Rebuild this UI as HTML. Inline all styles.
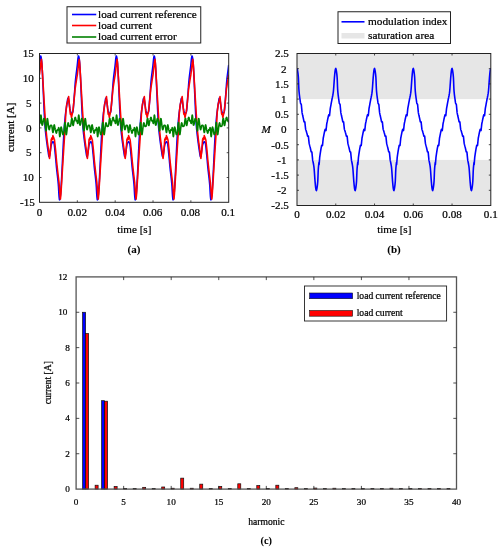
<!DOCTYPE html>
<html><head><meta charset="utf-8"><title>Figure</title>
<style>html,body{margin:0;padding:0;background:#fff}svg{display:block}</style></head>
<body>
<svg width="502" height="550" viewBox="0 0 502 550" style="display:block">
<rect x="0" y="0" width="502" height="550" fill="#fff"/>
<defs><clipPath id="ca"><rect x="39.50" y="53.50" width="189.20" height="148.80"/></clipPath>
<clipPath id="cb"><rect x="297.00" y="53.50" width="193.80" height="152.00"/></clipPath></defs>
<g clip-path="url(#ca)" fill="none" stroke-linejoin="round">
<path d="M39.50,64.91 L39.59,63.99 L39.69,63.01 L39.78,61.99 L39.88,60.99 L39.97,60.03 L40.07,59.18 L40.16,58.46 L40.26,57.80 L40.35,57.13 L40.45,56.55 L40.54,56.14 L40.64,55.98 L40.73,56.06 L40.82,56.26 L40.92,56.58 L41.01,56.99 L41.11,57.45 L41.20,57.95 L41.30,58.46 L41.39,59.04 L41.49,59.76 L41.58,60.61 L41.68,61.59 L41.77,62.69 L41.87,63.90 L41.96,65.22 L42.05,66.64 L42.15,68.16 L42.24,69.76 L42.34,71.44 L42.43,73.20 L42.53,75.03 L42.62,76.92 L42.72,78.87 L42.81,80.86 L42.91,82.90 L43.00,84.97 L43.09,87.08 L43.19,89.21 L43.28,91.35 L43.38,93.51 L43.47,95.67 L43.57,97.82 L43.66,99.97 L43.76,102.11 L43.85,104.22 L43.95,106.30 L44.04,108.35 L44.14,110.36 L44.23,112.32 L44.32,114.23 L44.42,116.07 L44.51,117.85 L44.61,119.56 L44.70,121.19 L44.80,122.73 L44.89,124.17 L44.99,125.52 L45.08,126.77 L45.18,127.90 L45.27,128.95 L45.37,129.95 L45.46,130.91 L45.55,131.83 L45.65,132.72 L45.74,133.57 L45.84,134.40 L45.93,135.21 L46.03,136.00 L46.12,136.77 L46.22,137.54 L46.31,138.29 L46.41,139.05 L46.50,139.80 L46.59,140.56 L46.69,141.31 L46.78,142.05 L46.88,142.79 L46.97,143.52 L47.07,144.23 L47.16,144.94 L47.26,145.64 L47.35,146.32 L47.45,146.99 L47.54,147.65 L47.64,148.30 L47.73,148.93 L47.82,149.54 L47.92,150.14 L48.01,150.72 L48.11,151.31 L48.20,151.95 L48.30,152.61 L48.39,153.27 L48.49,153.92 L48.58,154.55 L48.68,155.12 L48.77,155.63 L48.87,156.06 L48.96,156.39 L49.05,156.59 L49.15,156.67 L49.24,156.61 L49.34,156.46 L49.43,156.21 L49.53,155.88 L49.62,155.47 L49.72,154.99 L49.81,154.45 L49.91,153.86 L50.00,153.23 L50.10,152.56 L50.19,151.87 L50.28,151.16 L50.38,150.44 L50.47,149.72 L50.57,149.00 L50.66,148.30 L50.76,147.63 L50.85,146.98 L50.95,146.38 L51.04,145.83 L51.14,145.33 L51.23,144.90 L51.32,144.54 L51.42,144.27 L51.51,144.04 L51.61,143.81 L51.70,143.58 L51.80,143.36 L51.89,143.15 L51.99,142.94 L52.08,142.75 L52.18,142.57 L52.27,142.40 L52.37,142.25 L52.46,142.12 L52.55,142.00 L52.65,141.91 L52.74,141.84 L52.84,141.80 L52.93,141.79 L53.03,141.80 L53.12,141.84 L53.22,141.90 L53.31,141.98 L53.41,142.08 L53.50,142.19 L53.60,142.32 L53.69,142.46 L53.78,142.62 L53.88,142.78 L53.97,143.01 L54.07,143.37 L54.16,143.85 L54.26,144.42 L54.35,145.09 L54.45,145.84 L54.54,146.66 L54.64,147.53 L54.73,148.45 L54.83,149.40 L54.92,150.37 L55.01,151.36 L55.11,152.35 L55.20,153.32 L55.30,154.27 L55.39,155.18 L55.49,156.10 L55.58,157.07 L55.68,158.08 L55.77,159.12 L55.87,160.19 L55.96,161.27 L56.05,162.36 L56.15,163.44 L56.24,164.52 L56.34,165.57 L56.43,166.59 L56.53,167.58 L56.62,168.52 L56.72,169.43 L56.81,170.30 L56.91,171.14 L57.00,171.97 L57.10,172.77 L57.19,173.57 L57.28,174.36 L57.38,175.15 L57.47,175.95 L57.57,176.76 L57.66,177.58 L57.76,178.43 L57.85,179.30 L57.95,180.21 L58.04,181.16 L58.14,182.15 L58.23,183.19 L58.33,184.28 L58.42,185.44 L58.51,186.80 L58.61,188.43 L58.70,190.20 L58.80,192.00 L58.89,193.71 L58.99,195.20 L59.08,196.35 L59.18,197.31 L59.27,198.25 L59.37,199.05 L59.46,199.61 L59.56,199.82 L59.65,199.73 L59.74,199.47 L59.84,199.08 L59.93,198.59 L60.03,198.04 L60.12,197.44 L60.22,196.84 L60.31,196.20 L60.41,195.45 L60.50,194.59 L60.60,193.64 L60.69,192.60 L60.78,191.47 L60.88,190.25 L60.97,188.95 L61.07,187.58 L61.16,186.13 L61.26,184.62 L61.35,183.05 L61.45,181.42 L61.54,179.74 L61.64,178.00 L61.73,176.23 L61.83,174.41 L61.92,172.56 L62.01,170.68 L62.11,168.77 L62.20,166.84 L62.30,164.90 L62.39,162.94 L62.49,160.97 L62.58,158.99 L62.68,157.02 L62.77,155.06 L62.87,153.10 L62.96,151.15 L63.06,149.23 L63.15,147.33 L63.24,145.45 L63.34,143.61 L63.43,141.80 L63.53,140.03 L63.62,138.31 L63.72,136.64 L63.81,135.02 L63.91,133.46 L64.00,131.97 L64.10,130.54 L64.19,129.18 L64.29,127.90 L64.38,126.67 L64.47,125.46 L64.57,124.27 L64.66,123.10 L64.76,121.96 L64.85,120.86 L64.95,119.78 L65.04,118.74 L65.14,117.74 L65.23,116.79 L65.33,115.87 L65.42,115.00 L65.52,114.17 L65.61,113.37 L65.70,112.59 L65.80,111.83 L65.89,111.09 L65.99,110.38 L66.08,109.68 L66.18,109.00 L66.27,108.34 L66.37,107.69 L66.46,107.06 L66.56,106.45 L66.65,105.84 L66.74,105.25 L66.84,104.67 L66.93,104.09 L67.03,103.50 L67.12,102.86 L67.22,102.20 L67.31,101.54 L67.41,100.88 L67.50,100.26 L67.60,99.69 L67.69,99.18 L67.79,98.75 L67.88,98.42 L67.97,98.21 L68.07,98.14 L68.16,98.19 L68.26,98.34 L68.35,98.59 L68.45,98.91 L68.54,99.31 L68.64,99.78 L68.73,100.31 L68.83,100.88 L68.92,101.50 L69.02,102.16 L69.11,102.84 L69.20,103.54 L69.30,104.26 L69.39,104.97 L69.49,105.68 L69.58,106.38 L69.68,107.06 L69.77,107.71 L69.87,108.32 L69.96,108.88 L70.06,109.40 L70.15,109.85 L70.25,110.23 L70.34,110.54 L70.43,110.81 L70.53,111.07 L70.62,111.34 L70.72,111.60 L70.81,111.86 L70.91,112.10 L71.00,112.34 L71.10,112.56 L71.19,112.76 L71.29,112.95 L71.38,113.11 L71.47,113.25 L71.57,113.36 L71.66,113.45 L71.76,113.50 L71.85,113.52 L71.95,113.50 L72.04,113.44 L72.14,113.35 L72.23,113.23 L72.33,113.08 L72.42,112.91 L72.52,112.71 L72.61,112.50 L72.70,112.27 L72.80,112.03 L72.89,111.69 L72.99,111.19 L73.08,110.55 L73.18,109.76 L73.27,108.86 L73.37,107.86 L73.46,106.77 L73.56,105.61 L73.65,104.39 L73.75,103.13 L73.84,101.85 L73.93,100.57 L74.03,99.29 L74.12,98.03 L74.22,96.82 L74.31,95.66 L74.41,94.50 L74.50,93.27 L74.60,91.99 L74.69,90.68 L74.79,89.34 L74.88,88.01 L74.97,86.69 L75.07,85.39 L75.16,84.14 L75.26,82.94 L75.35,81.82 L75.45,80.78 L75.54,79.82 L75.64,78.89 L75.73,78.01 L75.83,77.16 L75.92,76.34 L76.02,75.54 L76.11,74.77 L76.20,74.01 L76.30,73.27 L76.39,72.54 L76.49,71.81 L76.58,71.09 L76.68,70.36 L76.77,69.63 L76.87,68.89 L76.96,68.14 L77.06,67.37 L77.15,66.57 L77.25,65.76 L77.34,64.91 L77.43,63.99 L77.53,63.01 L77.62,61.99 L77.72,60.99 L77.81,60.03 L77.91,59.18 L78.00,58.46 L78.10,57.80 L78.19,57.13 L78.29,56.55 L78.38,56.14 L78.48,55.98 L78.57,56.06 L78.66,56.26 L78.76,56.58 L78.85,56.99 L78.95,57.45 L79.04,57.95 L79.14,58.46 L79.23,59.04 L79.33,59.76 L79.42,60.61 L79.52,61.59 L79.61,62.69 L79.70,63.90 L79.80,65.22 L79.89,66.64 L79.99,68.16 L80.08,69.76 L80.18,71.44 L80.27,73.20 L80.37,75.03 L80.46,76.92 L80.56,78.87 L80.65,80.86 L80.75,82.90 L80.84,84.97 L80.93,87.08 L81.03,89.21 L81.12,91.35 L81.22,93.51 L81.31,95.67 L81.41,97.82 L81.50,99.97 L81.60,102.11 L81.69,104.22 L81.79,106.30 L81.88,108.35 L81.98,110.36 L82.07,112.32 L82.16,114.23 L82.26,116.07 L82.35,117.85 L82.45,119.56 L82.54,121.19 L82.64,122.73 L82.73,124.17 L82.83,125.52 L82.92,126.77 L83.02,127.90 L83.11,128.95 L83.21,129.95 L83.30,130.91 L83.39,131.83 L83.49,132.72 L83.58,133.57 L83.68,134.40 L83.77,135.21 L83.87,136.00 L83.96,136.77 L84.06,137.54 L84.15,138.29 L84.25,139.05 L84.34,139.80 L84.44,140.56 L84.53,141.31 L84.62,142.05 L84.72,142.79 L84.81,143.52 L84.91,144.23 L85.00,144.94 L85.10,145.64 L85.19,146.32 L85.29,146.99 L85.38,147.65 L85.48,148.30 L85.57,148.93 L85.66,149.54 L85.76,150.14 L85.85,150.72 L85.95,151.31 L86.04,151.95 L86.14,152.61 L86.23,153.27 L86.33,153.92 L86.42,154.55 L86.52,155.12 L86.61,155.63 L86.71,156.06 L86.80,156.39 L86.89,156.59 L86.99,156.67 L87.08,156.61 L87.18,156.46 L87.27,156.21 L87.37,155.88 L87.46,155.47 L87.56,154.99 L87.65,154.45 L87.75,153.86 L87.84,153.23 L87.94,152.56 L88.03,151.87 L88.12,151.16 L88.22,150.44 L88.31,149.72 L88.41,149.00 L88.50,148.30 L88.60,147.63 L88.69,146.98 L88.79,146.38 L88.88,145.83 L88.98,145.33 L89.07,144.90 L89.16,144.54 L89.26,144.27 L89.35,144.04 L89.45,143.81 L89.54,143.58 L89.64,143.36 L89.73,143.15 L89.83,142.94 L89.92,142.75 L90.02,142.57 L90.11,142.40 L90.21,142.25 L90.30,142.12 L90.39,142.00 L90.49,141.91 L90.58,141.84 L90.68,141.80 L90.77,141.79 L90.87,141.80 L90.96,141.84 L91.06,141.90 L91.15,141.98 L91.25,142.08 L91.34,142.19 L91.44,142.32 L91.53,142.46 L91.62,142.62 L91.72,142.78 L91.81,143.01 L91.91,143.37 L92.00,143.85 L92.10,144.42 L92.19,145.09 L92.29,145.84 L92.38,146.66 L92.48,147.53 L92.57,148.45 L92.67,149.40 L92.76,150.37 L92.85,151.36 L92.95,152.35 L93.04,153.32 L93.14,154.27 L93.23,155.18 L93.33,156.10 L93.42,157.07 L93.52,158.08 L93.61,159.12 L93.71,160.19 L93.80,161.27 L93.89,162.36 L93.99,163.44 L94.08,164.52 L94.18,165.57 L94.27,166.59 L94.37,167.58 L94.46,168.52 L94.56,169.43 L94.65,170.30 L94.75,171.14 L94.84,171.97 L94.94,172.77 L95.03,173.57 L95.12,174.36 L95.22,175.15 L95.31,175.95 L95.41,176.76 L95.50,177.58 L95.60,178.43 L95.69,179.30 L95.79,180.21 L95.88,181.16 L95.98,182.15 L96.07,183.19 L96.17,184.28 L96.26,185.44 L96.35,186.80 L96.45,188.43 L96.54,190.20 L96.64,192.00 L96.73,193.71 L96.83,195.20 L96.92,196.35 L97.02,197.31 L97.11,198.25 L97.21,199.05 L97.30,199.61 L97.40,199.82 L97.49,199.73 L97.58,199.47 L97.68,199.08 L97.77,198.59 L97.87,198.04 L97.96,197.44 L98.06,196.84 L98.15,196.20 L98.25,195.45 L98.34,194.59 L98.44,193.64 L98.53,192.60 L98.62,191.47 L98.72,190.25 L98.81,188.95 L98.91,187.58 L99.00,186.13 L99.10,184.62 L99.19,183.05 L99.29,181.42 L99.38,179.74 L99.48,178.00 L99.57,176.23 L99.67,174.41 L99.76,172.56 L99.85,170.68 L99.95,168.77 L100.04,166.84 L100.14,164.90 L100.23,162.94 L100.33,160.97 L100.42,158.99 L100.52,157.02 L100.61,155.06 L100.71,153.10 L100.80,151.15 L100.90,149.23 L100.99,147.33 L101.08,145.45 L101.18,143.61 L101.27,141.80 L101.37,140.03 L101.46,138.31 L101.56,136.64 L101.65,135.02 L101.75,133.46 L101.84,131.97 L101.94,130.54 L102.03,129.18 L102.13,127.90 L102.22,126.67 L102.31,125.46 L102.41,124.27 L102.50,123.10 L102.60,121.96 L102.69,120.86 L102.79,119.78 L102.88,118.74 L102.98,117.74 L103.07,116.79 L103.17,115.87 L103.26,115.00 L103.36,114.17 L103.45,113.37 L103.54,112.59 L103.64,111.83 L103.73,111.09 L103.83,110.38 L103.92,109.68 L104.02,109.00 L104.11,108.34 L104.21,107.69 L104.30,107.06 L104.40,106.45 L104.49,105.84 L104.58,105.25 L104.68,104.67 L104.77,104.09 L104.87,103.50 L104.96,102.86 L105.06,102.20 L105.15,101.54 L105.25,100.88 L105.34,100.26 L105.44,99.69 L105.53,99.18 L105.63,98.75 L105.72,98.42 L105.81,98.21 L105.91,98.14 L106.00,98.19 L106.10,98.34 L106.19,98.59 L106.29,98.91 L106.38,99.31 L106.48,99.78 L106.57,100.31 L106.67,100.88 L106.76,101.50 L106.86,102.16 L106.95,102.84 L107.04,103.54 L107.14,104.26 L107.23,104.97 L107.33,105.68 L107.42,106.38 L107.52,107.06 L107.61,107.71 L107.71,108.32 L107.80,108.88 L107.90,109.40 L107.99,109.85 L108.08,110.23 L108.18,110.54 L108.27,110.81 L108.37,111.07 L108.46,111.34 L108.56,111.60 L108.65,111.86 L108.75,112.10 L108.84,112.34 L108.94,112.56 L109.03,112.76 L109.13,112.95 L109.22,113.11 L109.31,113.25 L109.41,113.36 L109.50,113.45 L109.60,113.50 L109.69,113.52 L109.79,113.50 L109.88,113.44 L109.98,113.35 L110.07,113.23 L110.17,113.08 L110.26,112.91 L110.36,112.71 L110.45,112.50 L110.54,112.27 L110.64,112.03 L110.73,111.69 L110.83,111.19 L110.92,110.55 L111.02,109.76 L111.11,108.86 L111.21,107.86 L111.30,106.77 L111.40,105.61 L111.49,104.39 L111.59,103.13 L111.68,101.85 L111.77,100.57 L111.87,99.29 L111.96,98.03 L112.06,96.82 L112.15,95.66 L112.25,94.50 L112.34,93.27 L112.44,91.99 L112.53,90.68 L112.63,89.34 L112.72,88.01 L112.81,86.69 L112.91,85.39 L113.00,84.14 L113.10,82.94 L113.19,81.82 L113.29,80.78 L113.38,79.82 L113.48,78.89 L113.57,78.01 L113.67,77.16 L113.76,76.34 L113.86,75.54 L113.95,74.77 L114.04,74.01 L114.14,73.27 L114.23,72.54 L114.33,71.81 L114.42,71.09 L114.52,70.36 L114.61,69.63 L114.71,68.89 L114.80,68.14 L114.90,67.37 L114.99,66.57 L115.09,65.76 L115.18,64.91 L115.27,63.99 L115.37,63.01 L115.46,61.99 L115.56,60.99 L115.65,60.03 L115.75,59.18 L115.84,58.46 L115.94,57.80 L116.03,57.13 L116.13,56.55 L116.22,56.14 L116.32,55.98 L116.41,56.06 L116.50,56.26 L116.60,56.58 L116.69,56.99 L116.79,57.45 L116.88,57.95 L116.98,58.46 L117.07,59.04 L117.17,59.76 L117.26,60.61 L117.36,61.59 L117.45,62.69 L117.55,63.90 L117.64,65.22 L117.73,66.64 L117.83,68.16 L117.92,69.76 L118.02,71.44 L118.11,73.20 L118.21,75.03 L118.30,76.92 L118.40,78.87 L118.49,80.86 L118.59,82.90 L118.68,84.97 L118.77,87.08 L118.87,89.21 L118.96,91.35 L119.06,93.51 L119.15,95.67 L119.25,97.82 L119.34,99.97 L119.44,102.11 L119.53,104.22 L119.63,106.30 L119.72,108.35 L119.82,110.36 L119.91,112.32 L120.00,114.23 L120.10,116.07 L120.19,117.85 L120.29,119.56 L120.38,121.19 L120.48,122.73 L120.57,124.17 L120.67,125.52 L120.76,126.77 L120.86,127.90 L120.95,128.95 L121.05,129.95 L121.14,130.91 L121.23,131.83 L121.33,132.72 L121.42,133.57 L121.52,134.40 L121.61,135.21 L121.71,136.00 L121.80,136.77 L121.90,137.54 L121.99,138.29 L122.09,139.05 L122.18,139.80 L122.27,140.56 L122.37,141.31 L122.46,142.05 L122.56,142.79 L122.65,143.52 L122.75,144.23 L122.84,144.94 L122.94,145.64 L123.03,146.32 L123.13,146.99 L123.22,147.65 L123.32,148.30 L123.41,148.93 L123.50,149.54 L123.60,150.14 L123.69,150.72 L123.79,151.31 L123.88,151.95 L123.98,152.61 L124.07,153.27 L124.17,153.92 L124.26,154.55 L124.36,155.12 L124.45,155.63 L124.55,156.06 L124.64,156.39 L124.73,156.59 L124.83,156.67 L124.92,156.61 L125.02,156.46 L125.11,156.21 L125.21,155.88 L125.30,155.47 L125.40,154.99 L125.49,154.45 L125.59,153.86 L125.68,153.23 L125.78,152.56 L125.87,151.87 L125.96,151.16 L126.06,150.44 L126.15,149.72 L126.25,149.00 L126.34,148.30 L126.44,147.63 L126.53,146.98 L126.63,146.38 L126.72,145.83 L126.82,145.33 L126.91,144.90 L127.00,144.54 L127.10,144.27 L127.19,144.04 L127.29,143.81 L127.38,143.58 L127.48,143.36 L127.57,143.15 L127.67,142.94 L127.76,142.75 L127.86,142.57 L127.95,142.40 L128.05,142.25 L128.14,142.12 L128.23,142.00 L128.33,141.91 L128.42,141.84 L128.52,141.80 L128.61,141.79 L128.71,141.80 L128.80,141.84 L128.90,141.90 L128.99,141.98 L129.09,142.08 L129.18,142.19 L129.28,142.32 L129.37,142.46 L129.46,142.62 L129.56,142.78 L129.65,143.01 L129.75,143.37 L129.84,143.85 L129.94,144.42 L130.03,145.09 L130.13,145.84 L130.22,146.66 L130.32,147.53 L130.41,148.45 L130.51,149.40 L130.60,150.37 L130.69,151.36 L130.79,152.35 L130.88,153.32 L130.98,154.27 L131.07,155.18 L131.17,156.10 L131.26,157.07 L131.36,158.08 L131.45,159.12 L131.55,160.19 L131.64,161.27 L131.73,162.36 L131.83,163.44 L131.92,164.52 L132.02,165.57 L132.11,166.59 L132.21,167.58 L132.30,168.52 L132.40,169.43 L132.49,170.30 L132.59,171.14 L132.68,171.97 L132.78,172.77 L132.87,173.57 L132.96,174.36 L133.06,175.15 L133.15,175.95 L133.25,176.76 L133.34,177.58 L133.44,178.43 L133.53,179.30 L133.63,180.21 L133.72,181.16 L133.82,182.15 L133.91,183.19 L134.01,184.28 L134.10,185.44 L134.19,186.80 L134.29,188.43 L134.38,190.20 L134.48,192.00 L134.57,193.71 L134.67,195.20 L134.76,196.35 L134.86,197.31 L134.95,198.25 L135.05,199.05 L135.14,199.61 L135.24,199.82 L135.33,199.73 L135.42,199.47 L135.52,199.08 L135.61,198.59 L135.71,198.04 L135.80,197.44 L135.90,196.84 L135.99,196.20 L136.09,195.45 L136.18,194.59 L136.28,193.64 L136.37,192.60 L136.47,191.47 L136.56,190.25 L136.65,188.95 L136.75,187.58 L136.84,186.13 L136.94,184.62 L137.03,183.05 L137.13,181.42 L137.22,179.74 L137.32,178.00 L137.41,176.23 L137.51,174.41 L137.60,172.56 L137.69,170.68 L137.79,168.77 L137.88,166.84 L137.98,164.90 L138.07,162.94 L138.17,160.97 L138.26,158.99 L138.36,157.02 L138.45,155.06 L138.55,153.10 L138.64,151.15 L138.74,149.23 L138.83,147.33 L138.92,145.45 L139.02,143.61 L139.11,141.80 L139.21,140.03 L139.30,138.31 L139.40,136.64 L139.49,135.02 L139.59,133.46 L139.68,131.97 L139.78,130.54 L139.87,129.18 L139.97,127.90 L140.06,126.67 L140.15,125.46 L140.25,124.27 L140.34,123.10 L140.44,121.96 L140.53,120.86 L140.63,119.78 L140.72,118.74 L140.82,117.74 L140.91,116.79 L141.01,115.87 L141.10,115.00 L141.19,114.17 L141.29,113.37 L141.38,112.59 L141.48,111.83 L141.57,111.09 L141.67,110.38 L141.76,109.68 L141.86,109.00 L141.95,108.34 L142.05,107.69 L142.14,107.06 L142.24,106.45 L142.33,105.84 L142.42,105.25 L142.52,104.67 L142.61,104.09 L142.71,103.50 L142.80,102.86 L142.90,102.20 L142.99,101.54 L143.09,100.88 L143.18,100.26 L143.28,99.69 L143.37,99.18 L143.47,98.75 L143.56,98.42 L143.65,98.21 L143.75,98.14 L143.84,98.19 L143.94,98.34 L144.03,98.59 L144.13,98.91 L144.22,99.31 L144.32,99.78 L144.41,100.31 L144.51,100.88 L144.60,101.50 L144.70,102.16 L144.79,102.84 L144.88,103.54 L144.98,104.26 L145.07,104.97 L145.17,105.68 L145.26,106.38 L145.36,107.06 L145.45,107.71 L145.55,108.32 L145.64,108.88 L145.74,109.40 L145.83,109.85 L145.93,110.23 L146.02,110.54 L146.11,110.81 L146.21,111.07 L146.30,111.34 L146.40,111.60 L146.49,111.86 L146.59,112.10 L146.68,112.34 L146.78,112.56 L146.87,112.76 L146.97,112.95 L147.06,113.11 L147.15,113.25 L147.25,113.36 L147.34,113.45 L147.44,113.50 L147.53,113.52 L147.63,113.50 L147.72,113.44 L147.82,113.35 L147.91,113.23 L148.01,113.08 L148.10,112.91 L148.20,112.71 L148.29,112.50 L148.38,112.27 L148.48,112.03 L148.57,111.69 L148.67,111.19 L148.76,110.55 L148.86,109.76 L148.95,108.86 L149.05,107.86 L149.14,106.77 L149.24,105.61 L149.33,104.39 L149.43,103.13 L149.52,101.85 L149.61,100.57 L149.71,99.29 L149.80,98.03 L149.90,96.82 L149.99,95.66 L150.09,94.50 L150.18,93.27 L150.28,91.99 L150.37,90.68 L150.47,89.34 L150.56,88.01 L150.66,86.69 L150.75,85.39 L150.84,84.14 L150.94,82.94 L151.03,81.82 L151.13,80.78 L151.22,79.82 L151.32,78.89 L151.41,78.01 L151.51,77.16 L151.60,76.34 L151.70,75.54 L151.79,74.77 L151.88,74.01 L151.98,73.27 L152.07,72.54 L152.17,71.81 L152.26,71.09 L152.36,70.36 L152.45,69.63 L152.55,68.89 L152.64,68.14 L152.74,67.37 L152.83,66.57 L152.93,65.76 L153.02,64.91 L153.11,63.99 L153.21,63.01 L153.30,61.99 L153.40,60.99 L153.49,60.03 L153.59,59.18 L153.68,58.46 L153.78,57.80 L153.87,57.13 L153.97,56.55 L154.06,56.14 L154.16,55.98 L154.25,56.06 L154.34,56.26 L154.44,56.58 L154.53,56.99 L154.63,57.45 L154.72,57.95 L154.82,58.46 L154.91,59.04 L155.01,59.76 L155.10,60.61 L155.20,61.59 L155.29,62.69 L155.38,63.90 L155.48,65.22 L155.57,66.64 L155.67,68.16 L155.76,69.76 L155.86,71.44 L155.95,73.20 L156.05,75.03 L156.14,76.92 L156.24,78.87 L156.33,80.86 L156.43,82.90 L156.52,84.97 L156.61,87.08 L156.71,89.21 L156.80,91.35 L156.90,93.51 L156.99,95.67 L157.09,97.82 L157.18,99.97 L157.28,102.11 L157.37,104.22 L157.47,106.30 L157.56,108.35 L157.66,110.36 L157.75,112.32 L157.84,114.23 L157.94,116.07 L158.03,117.85 L158.13,119.56 L158.22,121.19 L158.32,122.73 L158.41,124.17 L158.51,125.52 L158.60,126.77 L158.70,127.90 L158.79,128.95 L158.89,129.95 L158.98,130.91 L159.07,131.83 L159.17,132.72 L159.26,133.57 L159.36,134.40 L159.45,135.21 L159.55,136.00 L159.64,136.77 L159.74,137.54 L159.83,138.29 L159.93,139.05 L160.02,139.80 L160.11,140.56 L160.21,141.31 L160.30,142.05 L160.40,142.79 L160.49,143.52 L160.59,144.23 L160.68,144.94 L160.78,145.64 L160.87,146.32 L160.97,146.99 L161.06,147.65 L161.16,148.30 L161.25,148.93 L161.34,149.54 L161.44,150.14 L161.53,150.72 L161.63,151.31 L161.72,151.95 L161.82,152.61 L161.91,153.27 L162.01,153.92 L162.10,154.55 L162.20,155.12 L162.29,155.63 L162.39,156.06 L162.48,156.39 L162.57,156.59 L162.67,156.67 L162.76,156.61 L162.86,156.46 L162.95,156.21 L163.05,155.88 L163.14,155.47 L163.24,154.99 L163.33,154.45 L163.43,153.86 L163.52,153.23 L163.62,152.56 L163.71,151.87 L163.80,151.16 L163.90,150.44 L163.99,149.72 L164.09,149.00 L164.18,148.30 L164.28,147.63 L164.37,146.98 L164.47,146.38 L164.56,145.83 L164.66,145.33 L164.75,144.90 L164.84,144.54 L164.94,144.27 L165.03,144.04 L165.13,143.81 L165.22,143.58 L165.32,143.36 L165.41,143.15 L165.51,142.94 L165.60,142.75 L165.70,142.57 L165.79,142.40 L165.89,142.25 L165.98,142.12 L166.07,142.00 L166.17,141.91 L166.26,141.84 L166.36,141.80 L166.45,141.79 L166.55,141.80 L166.64,141.84 L166.74,141.90 L166.83,141.98 L166.93,142.08 L167.02,142.19 L167.12,142.32 L167.21,142.46 L167.30,142.62 L167.40,142.78 L167.49,143.01 L167.59,143.37 L167.68,143.85 L167.78,144.42 L167.87,145.09 L167.97,145.84 L168.06,146.66 L168.16,147.53 L168.25,148.45 L168.35,149.40 L168.44,150.37 L168.53,151.36 L168.63,152.35 L168.72,153.32 L168.82,154.27 L168.91,155.18 L169.01,156.10 L169.10,157.07 L169.20,158.08 L169.29,159.12 L169.39,160.19 L169.48,161.27 L169.57,162.36 L169.67,163.44 L169.76,164.52 L169.86,165.57 L169.95,166.59 L170.05,167.58 L170.14,168.52 L170.24,169.43 L170.33,170.30 L170.43,171.14 L170.52,171.97 L170.62,172.77 L170.71,173.57 L170.80,174.36 L170.90,175.15 L170.99,175.95 L171.09,176.76 L171.18,177.58 L171.28,178.43 L171.37,179.30 L171.47,180.21 L171.56,181.16 L171.66,182.15 L171.75,183.19 L171.85,184.28 L171.94,185.44 L172.03,186.80 L172.13,188.43 L172.22,190.20 L172.32,192.00 L172.41,193.71 L172.51,195.20 L172.60,196.35 L172.70,197.31 L172.79,198.25 L172.89,199.05 L172.98,199.61 L173.08,199.82 L173.17,199.73 L173.26,199.47 L173.36,199.08 L173.45,198.59 L173.55,198.04 L173.64,197.44 L173.74,196.84 L173.83,196.20 L173.93,195.45 L174.02,194.59 L174.12,193.64 L174.21,192.60 L174.31,191.47 L174.40,190.25 L174.49,188.95 L174.59,187.58 L174.68,186.13 L174.78,184.62 L174.87,183.05 L174.97,181.42 L175.06,179.74 L175.16,178.00 L175.25,176.23 L175.35,174.41 L175.44,172.56 L175.53,170.68 L175.63,168.77 L175.72,166.84 L175.82,164.90 L175.91,162.94 L176.01,160.97 L176.10,158.99 L176.20,157.02 L176.29,155.06 L176.39,153.10 L176.48,151.15 L176.58,149.23 L176.67,147.33 L176.76,145.45 L176.86,143.61 L176.95,141.80 L177.05,140.03 L177.14,138.31 L177.24,136.64 L177.33,135.02 L177.43,133.46 L177.52,131.97 L177.62,130.54 L177.71,129.18 L177.81,127.90 L177.90,126.67 L177.99,125.46 L178.09,124.27 L178.18,123.10 L178.28,121.96 L178.37,120.86 L178.47,119.78 L178.56,118.74 L178.66,117.74 L178.75,116.79 L178.85,115.87 L178.94,115.00 L179.03,114.17 L179.13,113.37 L179.22,112.59 L179.32,111.83 L179.41,111.09 L179.51,110.38 L179.60,109.68 L179.70,109.00 L179.79,108.34 L179.89,107.69 L179.98,107.06 L180.08,106.45 L180.17,105.84 L180.26,105.25 L180.36,104.67 L180.45,104.09 L180.55,103.50 L180.64,102.86 L180.74,102.20 L180.83,101.54 L180.93,100.88 L181.02,100.26 L181.12,99.69 L181.21,99.18 L181.31,98.75 L181.40,98.42 L181.49,98.21 L181.59,98.14 L181.68,98.19 L181.78,98.34 L181.87,98.59 L181.97,98.91 L182.06,99.31 L182.16,99.78 L182.25,100.31 L182.35,100.88 L182.44,101.50 L182.54,102.16 L182.63,102.84 L182.72,103.54 L182.82,104.26 L182.91,104.97 L183.01,105.68 L183.10,106.38 L183.20,107.06 L183.29,107.71 L183.39,108.32 L183.48,108.88 L183.58,109.40 L183.67,109.85 L183.76,110.23 L183.86,110.54 L183.95,110.81 L184.05,111.07 L184.14,111.34 L184.24,111.60 L184.33,111.86 L184.43,112.10 L184.52,112.34 L184.62,112.56 L184.71,112.76 L184.81,112.95 L184.90,113.11 L184.99,113.25 L185.09,113.36 L185.18,113.45 L185.28,113.50 L185.37,113.52 L185.47,113.50 L185.56,113.44 L185.66,113.35 L185.75,113.23 L185.85,113.08 L185.94,112.91 L186.04,112.71 L186.13,112.50 L186.22,112.27 L186.32,112.03 L186.41,111.69 L186.51,111.19 L186.60,110.55 L186.70,109.76 L186.79,108.86 L186.89,107.86 L186.98,106.77 L187.08,105.61 L187.17,104.39 L187.27,103.13 L187.36,101.85 L187.45,100.57 L187.55,99.29 L187.64,98.03 L187.74,96.82 L187.83,95.66 L187.93,94.50 L188.02,93.27 L188.12,91.99 L188.21,90.68 L188.31,89.34 L188.40,88.01 L188.49,86.69 L188.59,85.39 L188.68,84.14 L188.78,82.94 L188.87,81.82 L188.97,80.78 L189.06,79.82 L189.16,78.89 L189.25,78.01 L189.35,77.16 L189.44,76.34 L189.54,75.54 L189.63,74.77 L189.72,74.01 L189.82,73.27 L189.91,72.54 L190.01,71.81 L190.10,71.09 L190.20,70.36 L190.29,69.63 L190.39,68.89 L190.48,68.14 L190.58,67.37 L190.67,66.57 L190.77,65.76 L190.86,64.91 L190.95,63.99 L191.05,63.01 L191.14,61.99 L191.24,60.99 L191.33,60.03 L191.43,59.18 L191.52,58.46 L191.62,57.80 L191.71,57.13 L191.81,56.55 L191.90,56.14 L192.00,55.98 L192.09,56.06 L192.18,56.26 L192.28,56.58 L192.37,56.99 L192.47,57.45 L192.56,57.95 L192.66,58.46 L192.75,59.04 L192.85,59.76 L192.94,60.61 L193.04,61.59 L193.13,62.69 L193.22,63.90 L193.32,65.22 L193.41,66.64 L193.51,68.16 L193.60,69.76 L193.70,71.44 L193.79,73.20 L193.89,75.03 L193.98,76.92 L194.08,78.87 L194.17,80.86 L194.27,82.90 L194.36,84.97 L194.45,87.08 L194.55,89.21 L194.64,91.35 L194.74,93.51 L194.83,95.67 L194.93,97.82 L195.02,99.97 L195.12,102.11 L195.21,104.22 L195.31,106.30 L195.40,108.35 L195.50,110.36 L195.59,112.32 L195.68,114.23 L195.78,116.07 L195.87,117.85 L195.97,119.56 L196.06,121.19 L196.16,122.73 L196.25,124.17 L196.35,125.52 L196.44,126.77 L196.54,127.90 L196.63,128.95 L196.73,129.95 L196.82,130.91 L196.91,131.83 L197.01,132.72 L197.10,133.57 L197.20,134.40 L197.29,135.21 L197.39,136.00 L197.48,136.77 L197.58,137.54 L197.67,138.29 L197.77,139.05 L197.86,139.80 L197.95,140.56 L198.05,141.31 L198.14,142.05 L198.24,142.79 L198.33,143.52 L198.43,144.23 L198.52,144.94 L198.62,145.64 L198.71,146.32 L198.81,146.99 L198.90,147.65 L199.00,148.30 L199.09,148.93 L199.18,149.54 L199.28,150.14 L199.37,150.72 L199.47,151.31 L199.56,151.95 L199.66,152.61 L199.75,153.27 L199.85,153.92 L199.94,154.55 L200.04,155.12 L200.13,155.63 L200.23,156.06 L200.32,156.39 L200.41,156.59 L200.51,156.67 L200.60,156.61 L200.70,156.46 L200.79,156.21 L200.89,155.88 L200.98,155.47 L201.08,154.99 L201.17,154.45 L201.27,153.86 L201.36,153.23 L201.46,152.56 L201.55,151.87 L201.64,151.16 L201.74,150.44 L201.83,149.72 L201.93,149.00 L202.02,148.30 L202.12,147.63 L202.21,146.98 L202.31,146.38 L202.40,145.83 L202.50,145.33 L202.59,144.90 L202.69,144.54 L202.78,144.27 L202.87,144.04 L202.97,143.81 L203.06,143.58 L203.16,143.36 L203.25,143.15 L203.35,142.94 L203.44,142.75 L203.54,142.57 L203.63,142.40 L203.73,142.25 L203.82,142.12 L203.91,142.00 L204.01,141.91 L204.10,141.84 L204.20,141.80 L204.29,141.79 L204.39,141.80 L204.48,141.84 L204.58,141.90 L204.67,141.98 L204.77,142.08 L204.86,142.19 L204.96,142.32 L205.05,142.46 L205.14,142.62 L205.24,142.78 L205.33,143.01 L205.43,143.37 L205.52,143.85 L205.62,144.42 L205.71,145.09 L205.81,145.84 L205.90,146.66 L206.00,147.53 L206.09,148.45 L206.19,149.40 L206.28,150.37 L206.37,151.36 L206.47,152.35 L206.56,153.32 L206.66,154.27 L206.75,155.18 L206.85,156.10 L206.94,157.07 L207.04,158.08 L207.13,159.12 L207.23,160.19 L207.32,161.27 L207.41,162.36 L207.51,163.44 L207.60,164.52 L207.70,165.57 L207.79,166.59 L207.89,167.58 L207.98,168.52 L208.08,169.43 L208.17,170.30 L208.27,171.14 L208.36,171.97 L208.46,172.77 L208.55,173.57 L208.64,174.36 L208.74,175.15 L208.83,175.95 L208.93,176.76 L209.02,177.58 L209.12,178.43 L209.21,179.30 L209.31,180.21 L209.40,181.16 L209.50,182.15 L209.59,183.19 L209.69,184.28 L209.78,185.44 L209.87,186.80 L209.97,188.43 L210.06,190.20 L210.16,192.00 L210.25,193.71 L210.35,195.20 L210.44,196.35 L210.54,197.31 L210.63,198.25 L210.73,199.05 L210.82,199.61 L210.92,199.82 L211.01,199.73 L211.10,199.47 L211.20,199.08 L211.29,198.59 L211.39,198.04 L211.48,197.44 L211.58,196.84 L211.67,196.20 L211.77,195.45 L211.86,194.59 L211.96,193.64 L212.05,192.60 L212.14,191.47 L212.24,190.25 L212.33,188.95 L212.43,187.58 L212.52,186.13 L212.62,184.62 L212.71,183.05 L212.81,181.42 L212.90,179.74 L213.00,178.00 L213.09,176.23 L213.19,174.41 L213.28,172.56 L213.37,170.68 L213.47,168.77 L213.56,166.84 L213.66,164.90 L213.75,162.94 L213.85,160.97 L213.94,158.99 L214.04,157.02 L214.13,155.06 L214.23,153.10 L214.32,151.15 L214.42,149.23 L214.51,147.33 L214.60,145.45 L214.70,143.61 L214.79,141.80 L214.89,140.03 L214.98,138.31 L215.08,136.64 L215.17,135.02 L215.27,133.46 L215.36,131.97 L215.46,130.54 L215.55,129.18 L215.65,127.90 L215.74,126.67 L215.83,125.46 L215.93,124.27 L216.02,123.10 L216.12,121.96 L216.21,120.86 L216.31,119.78 L216.40,118.74 L216.50,117.74 L216.59,116.79 L216.69,115.87 L216.78,115.00 L216.87,114.17 L216.97,113.37 L217.06,112.59 L217.16,111.83 L217.25,111.09 L217.35,110.38 L217.44,109.68 L217.54,109.00 L217.63,108.34 L217.73,107.69 L217.82,107.06 L217.92,106.45 L218.01,105.84 L218.10,105.25 L218.20,104.67 L218.29,104.09 L218.39,103.50 L218.48,102.86 L218.58,102.20 L218.67,101.54 L218.77,100.88 L218.86,100.26 L218.96,99.69 L219.05,99.18 L219.15,98.75 L219.24,98.42 L219.33,98.21 L219.43,98.14 L219.52,98.19 L219.62,98.34 L219.71,98.59 L219.81,98.91 L219.90,99.31 L220.00,99.78 L220.09,100.31 L220.19,100.88 L220.28,101.50 L220.38,102.16 L220.47,102.84 L220.56,103.54 L220.66,104.26 L220.75,104.97 L220.85,105.68 L220.94,106.38 L221.04,107.06 L221.13,107.71 L221.23,108.32 L221.32,108.88 L221.42,109.40 L221.51,109.85 L221.60,110.23 L221.70,110.54 L221.79,110.81 L221.89,111.07 L221.98,111.34 L222.08,111.60 L222.17,111.86 L222.27,112.10 L222.36,112.34 L222.46,112.56 L222.55,112.76 L222.65,112.95 L222.74,113.11 L222.83,113.25 L222.93,113.36 L223.02,113.45 L223.12,113.50 L223.21,113.52 L223.31,113.50 L223.40,113.44 L223.50,113.35 L223.59,113.23 L223.69,113.08 L223.78,112.91 L223.88,112.71 L223.97,112.50 L224.06,112.27 L224.16,112.03 L224.25,111.69 L224.35,111.19 L224.44,110.55 L224.54,109.76 L224.63,108.86 L224.73,107.86 L224.82,106.77 L224.92,105.61 L225.01,104.39 L225.11,103.13 L225.20,101.85 L225.29,100.57 L225.39,99.29 L225.48,98.03 L225.58,96.82 L225.67,95.66 L225.77,94.50 L225.86,93.27 L225.96,91.99 L226.05,90.68 L226.15,89.34 L226.24,88.01 L226.33,86.69 L226.43,85.39 L226.52,84.14 L226.62,82.94 L226.71,81.82 L226.81,80.78 L226.90,79.82 L227.00,78.89 L227.09,78.01 L227.19,77.16 L227.28,76.34 L227.38,75.54 L227.47,74.77 L227.56,74.01 L227.66,73.27 L227.75,72.54 L227.85,71.81 L227.94,71.09 L228.04,70.36 L228.13,69.63 L228.23,68.89 L228.32,68.14 L228.42,67.37 L228.51,66.57 L228.61,65.76 L228.70,64.91" stroke="#0000ff" stroke-width="1.60"/>
<path d="M39.50,74.69 L39.59,73.88 L39.69,73.07 L39.78,72.26 L39.88,71.46 L39.97,70.65 L40.07,69.84 L40.16,69.02 L40.26,68.21 L40.35,67.38 L40.45,66.55 L40.54,65.72 L40.64,64.87 L40.73,64.02 L40.82,63.16 L40.92,62.53 L41.01,61.89 L41.11,61.24 L41.20,60.58 L41.30,59.93 L41.39,59.27 L41.49,60.07 L41.58,60.87 L41.68,61.67 L41.77,62.47 L41.87,63.28 L41.96,64.82 L42.05,66.36 L42.15,67.91 L42.24,69.47 L42.34,71.04 L42.43,72.61 L42.53,74.19 L42.62,75.77 L42.72,77.37 L42.81,78.97 L42.91,80.57 L43.00,82.18 L43.09,83.79 L43.19,85.41 L43.28,87.02 L43.38,88.64 L43.47,90.25 L43.57,91.86 L43.66,93.47 L43.76,95.07 L43.85,96.67 L43.95,98.26 L44.04,99.84 L44.14,101.41 L44.23,102.98 L44.32,104.54 L44.42,106.09 L44.51,107.64 L44.61,109.18 L44.70,110.72 L44.80,112.25 L44.89,113.78 L44.99,115.31 L45.08,116.84 L45.18,118.37 L45.27,119.91 L45.37,121.45 L45.46,122.99 L45.55,124.54 L45.65,126.09 L45.74,127.66 L45.84,128.50 L45.93,129.36 L46.03,130.22 L46.12,131.09 L46.22,131.96 L46.31,132.84 L46.41,133.73 L46.50,134.62 L46.59,135.51 L46.69,136.40 L46.78,137.29 L46.88,138.19 L46.97,139.08 L47.07,139.96 L47.16,140.67 L47.26,141.38 L47.35,142.08 L47.45,142.78 L47.54,143.46 L47.64,144.14 L47.73,144.81 L47.82,145.48 L47.92,146.14 L48.01,146.79 L48.11,147.44 L48.20,148.08 L48.30,148.72 L48.39,149.36 L48.49,150.00 L48.58,150.64 L48.68,151.39 L48.77,152.15 L48.87,152.91 L48.96,153.68 L49.05,154.46 L49.15,155.24 L49.24,156.02 L49.34,156.82 L49.43,157.62 L49.53,158.43 L49.62,157.61 L49.72,156.79 L49.81,155.99 L49.91,155.18 L50.00,154.38 L50.10,153.58 L50.19,152.78 L50.28,151.97 L50.38,151.17 L50.47,150.36 L50.57,149.03 L50.66,147.70 L50.76,146.35 L50.85,145.00 L50.95,143.65 L51.04,142.28 L51.14,140.91 L51.23,139.53 L51.32,139.33 L51.42,139.11 L51.51,138.89 L51.61,138.67 L51.70,138.44 L51.80,138.22 L51.89,137.99 L51.99,137.76 L52.08,138.12 L52.18,138.48 L52.27,138.84 L52.37,139.21 L52.46,139.58 L52.55,138.77 L52.65,137.97 L52.74,137.18 L52.84,136.39 L52.93,135.61 L53.03,135.84 L53.12,136.09 L53.22,136.34 L53.31,136.59 L53.41,136.85 L53.50,137.11 L53.60,137.37 L53.69,137.62 L53.78,137.88 L53.88,138.14 L53.97,138.39 L54.07,138.64 L54.16,138.88 L54.26,139.11 L54.35,139.34 L54.45,139.56 L54.54,140.46 L54.64,141.36 L54.73,142.25 L54.83,143.13 L54.92,144.01 L55.01,144.88 L55.11,145.75 L55.20,146.62 L55.30,147.49 L55.39,148.36 L55.49,149.22 L55.58,150.09 L55.68,151.15 L55.77,152.21 L55.87,153.28 L55.96,154.35 L56.05,155.43 L56.15,156.52 L56.24,157.61 L56.34,158.72 L56.43,159.82 L56.53,160.94 L56.62,161.79 L56.72,162.65 L56.81,163.50 L56.91,164.37 L57.00,165.23 L57.10,166.09 L57.19,166.95 L57.28,167.81 L57.38,168.67 L57.47,169.52 L57.57,170.37 L57.66,171.21 L57.76,172.04 L57.85,172.86 L57.95,173.68 L58.04,174.49 L58.14,175.30 L58.23,176.09 L58.33,176.89 L58.42,177.67 L58.51,178.45 L58.61,179.23 L58.70,180.01 L58.80,180.79 L58.89,181.57 L58.99,182.35 L59.08,183.53 L59.18,184.72 L59.27,185.91 L59.37,187.10 L59.46,188.31 L59.56,189.52 L59.65,190.74 L59.74,191.96 L59.84,193.19 L59.93,194.43 L60.03,195.68 L60.12,196.52 L60.22,197.36 L60.31,198.21 L60.41,199.06 L60.50,198.16 L60.60,197.26 L60.69,196.35 L60.78,195.45 L60.88,194.54 L60.97,193.06 L61.07,191.57 L61.16,190.07 L61.26,188.57 L61.35,187.06 L61.45,185.54 L61.54,184.02 L61.64,182.49 L61.73,180.95 L61.83,179.41 L61.92,177.86 L62.01,176.31 L62.11,174.76 L62.20,173.20 L62.30,171.65 L62.39,170.10 L62.49,168.55 L62.58,167.01 L62.68,165.47 L62.77,163.93 L62.87,162.41 L62.96,160.89 L63.06,159.37 L63.15,157.87 L63.24,156.37 L63.34,154.88 L63.43,153.39 L63.53,151.92 L63.62,150.44 L63.72,148.97 L63.81,147.50 L63.91,146.03 L64.00,144.57 L64.10,143.10 L64.19,141.62 L64.29,140.15 L64.38,138.67 L64.47,137.18 L64.57,135.69 L64.66,134.19 L64.76,132.68 L64.85,131.16 L64.95,129.64 L65.04,128.11 L65.14,126.23 L65.23,124.34 L65.33,122.44 L65.42,120.55 L65.52,118.64 L65.61,116.74 L65.70,114.84 L65.80,112.94 L65.89,112.06 L65.99,111.18 L66.08,110.30 L66.18,109.43 L66.27,108.57 L66.37,107.72 L66.46,106.87 L66.56,106.03 L66.65,105.20 L66.74,104.37 L66.84,103.98 L66.93,103.60 L67.03,103.23 L67.12,102.86 L67.22,102.49 L67.31,102.12 L67.41,101.76 L67.50,101.39 L67.60,101.02 L67.69,100.65 L67.79,100.27 L67.88,99.89 L67.97,99.50 L68.07,99.10 L68.16,98.70 L68.26,98.29 L68.35,97.87 L68.45,97.44 L68.54,97.01 L68.64,96.57 L68.73,97.58 L68.83,98.58 L68.92,99.58 L69.02,100.57 L69.11,101.57 L69.20,102.57 L69.30,103.57 L69.39,104.57 L69.49,105.57 L69.58,106.58 L69.68,107.60 L69.77,108.63 L69.87,109.66 L69.96,110.70 L70.06,111.74 L70.15,112.80 L70.25,113.31 L70.34,113.84 L70.43,114.36 L70.53,114.20 L70.62,114.04 L70.72,113.89 L70.81,113.73 L70.91,113.58 L71.00,114.24 L71.10,114.89 L71.19,115.55 L71.29,116.20 L71.38,116.84 L71.47,117.47 L71.57,117.06 L71.66,116.65 L71.76,116.22 L71.85,115.79 L71.95,115.35 L72.04,114.91 L72.14,114.46 L72.23,114.00 L72.33,113.54 L72.42,113.08 L72.52,112.62 L72.61,112.16 L72.70,111.70 L72.80,111.25 L72.89,110.79 L72.99,110.34 L73.08,109.41 L73.18,108.49 L73.27,107.57 L73.37,106.65 L73.46,105.75 L73.56,104.85 L73.65,103.96 L73.75,103.08 L73.84,102.20 L73.93,101.33 L74.03,100.46 L74.12,99.59 L74.22,98.54 L74.31,97.49 L74.41,96.44 L74.50,95.39 L74.60,94.33 L74.69,93.27 L74.79,92.20 L74.88,91.13 L74.97,90.05 L75.07,88.96 L75.16,88.38 L75.26,87.79 L75.35,87.20 L75.45,86.59 L75.54,85.98 L75.64,85.37 L75.73,84.75 L75.83,84.13 L75.92,83.51 L76.02,82.89 L76.11,82.27 L76.20,81.65 L76.30,81.04 L76.39,80.43 L76.49,79.83 L76.58,79.23 L76.68,78.64 L76.77,78.05 L76.87,77.48 L76.96,76.91 L77.06,76.34 L77.15,75.79 L77.25,75.24 L77.34,74.69 L77.43,73.88 L77.53,73.07 L77.62,72.26 L77.72,71.46 L77.81,70.65 L77.91,69.84 L78.00,69.02 L78.10,68.21 L78.19,67.38 L78.29,66.55 L78.38,65.72 L78.48,64.87 L78.57,64.02 L78.66,63.16 L78.76,62.53 L78.85,61.89 L78.95,61.24 L79.04,60.58 L79.14,59.93 L79.23,59.27 L79.33,60.07 L79.42,60.87 L79.52,61.67 L79.61,62.47 L79.70,63.28 L79.80,64.82 L79.89,66.36 L79.99,67.91 L80.08,69.47 L80.18,71.04 L80.27,72.61 L80.37,74.19 L80.46,75.77 L80.56,77.37 L80.65,78.97 L80.75,80.57 L80.84,82.18 L80.93,83.79 L81.03,85.41 L81.12,87.02 L81.22,88.64 L81.31,90.25 L81.41,91.86 L81.50,93.47 L81.60,95.07 L81.69,96.67 L81.79,98.26 L81.88,99.84 L81.98,101.41 L82.07,102.98 L82.16,104.54 L82.26,106.09 L82.35,107.64 L82.45,109.18 L82.54,110.72 L82.64,112.25 L82.73,113.78 L82.83,115.31 L82.92,116.84 L83.02,118.37 L83.11,119.91 L83.21,121.45 L83.30,122.99 L83.39,124.54 L83.49,126.09 L83.58,127.66 L83.68,128.50 L83.77,129.36 L83.87,130.22 L83.96,131.09 L84.06,131.96 L84.15,132.84 L84.25,133.73 L84.34,134.62 L84.44,135.51 L84.53,136.40 L84.62,137.29 L84.72,138.19 L84.81,139.08 L84.91,139.96 L85.00,140.67 L85.10,141.38 L85.19,142.08 L85.29,142.78 L85.38,143.46 L85.48,144.14 L85.57,144.81 L85.66,145.48 L85.76,146.14 L85.85,146.79 L85.95,147.44 L86.04,148.08 L86.14,148.72 L86.23,149.36 L86.33,150.00 L86.42,150.64 L86.52,151.39 L86.61,152.15 L86.71,152.91 L86.80,153.68 L86.89,154.46 L86.99,155.24 L87.08,156.02 L87.18,156.82 L87.27,157.62 L87.37,158.43 L87.46,157.61 L87.56,156.79 L87.65,155.99 L87.75,155.18 L87.84,154.38 L87.94,153.58 L88.03,152.78 L88.12,151.97 L88.22,151.17 L88.31,150.36 L88.41,149.03 L88.50,147.70 L88.60,146.35 L88.69,145.00 L88.79,143.65 L88.88,142.28 L88.98,140.91 L89.07,139.53 L89.16,139.33 L89.26,139.11 L89.35,138.89 L89.45,138.67 L89.54,138.44 L89.64,138.22 L89.73,137.99 L89.83,137.76 L89.92,138.12 L90.02,138.48 L90.11,138.84 L90.21,139.21 L90.30,139.58 L90.39,138.77 L90.49,137.97 L90.58,137.18 L90.68,136.39 L90.77,135.61 L90.87,135.84 L90.96,136.09 L91.06,136.34 L91.15,136.59 L91.25,136.85 L91.34,137.11 L91.44,137.37 L91.53,137.62 L91.62,137.88 L91.72,138.14 L91.81,138.39 L91.91,138.64 L92.00,138.88 L92.10,139.11 L92.19,139.34 L92.29,139.56 L92.38,140.46 L92.48,141.36 L92.57,142.25 L92.67,143.13 L92.76,144.01 L92.85,144.88 L92.95,145.75 L93.04,146.62 L93.14,147.49 L93.23,148.36 L93.33,149.22 L93.42,150.09 L93.52,151.15 L93.61,152.21 L93.71,153.28 L93.80,154.35 L93.89,155.43 L93.99,156.52 L94.08,157.61 L94.18,158.72 L94.27,159.82 L94.37,160.94 L94.46,161.79 L94.56,162.65 L94.65,163.50 L94.75,164.37 L94.84,165.23 L94.94,166.09 L95.03,166.95 L95.12,167.81 L95.22,168.67 L95.31,169.52 L95.41,170.37 L95.50,171.21 L95.60,172.04 L95.69,172.86 L95.79,173.68 L95.88,174.49 L95.98,175.30 L96.07,176.09 L96.17,176.89 L96.26,177.67 L96.35,178.45 L96.45,179.23 L96.54,180.01 L96.64,180.79 L96.73,181.57 L96.83,182.35 L96.92,183.53 L97.02,184.72 L97.11,185.91 L97.21,187.10 L97.30,188.31 L97.40,189.52 L97.49,190.74 L97.58,191.96 L97.68,193.19 L97.77,194.43 L97.87,195.68 L97.96,196.52 L98.06,197.36 L98.15,198.21 L98.25,199.06 L98.34,198.16 L98.44,197.26 L98.53,196.35 L98.62,195.45 L98.72,194.54 L98.81,193.06 L98.91,191.57 L99.00,190.07 L99.10,188.57 L99.19,187.06 L99.29,185.54 L99.38,184.02 L99.48,182.49 L99.57,180.95 L99.67,179.41 L99.76,177.86 L99.85,176.31 L99.95,174.76 L100.04,173.20 L100.14,171.65 L100.23,170.10 L100.33,168.55 L100.42,167.01 L100.52,165.47 L100.61,163.93 L100.71,162.41 L100.80,160.89 L100.90,159.37 L100.99,157.87 L101.08,156.37 L101.18,154.88 L101.27,153.39 L101.37,151.92 L101.46,150.44 L101.56,148.97 L101.65,147.50 L101.75,146.03 L101.84,144.57 L101.94,143.10 L102.03,141.62 L102.13,140.15 L102.22,138.67 L102.31,137.18 L102.41,135.69 L102.50,134.19 L102.60,132.68 L102.69,131.16 L102.79,129.64 L102.88,128.11 L102.98,126.23 L103.07,124.34 L103.17,122.44 L103.26,120.55 L103.36,118.64 L103.45,116.74 L103.54,114.84 L103.64,112.94 L103.73,112.06 L103.83,111.18 L103.92,110.30 L104.02,109.43 L104.11,108.57 L104.21,107.72 L104.30,106.87 L104.40,106.03 L104.49,105.20 L104.58,104.37 L104.68,103.98 L104.77,103.60 L104.87,103.23 L104.96,102.86 L105.06,102.49 L105.15,102.12 L105.25,101.76 L105.34,101.39 L105.44,101.02 L105.53,100.65 L105.63,100.27 L105.72,99.89 L105.81,99.50 L105.91,99.10 L106.00,98.70 L106.10,98.29 L106.19,97.87 L106.29,97.44 L106.38,97.01 L106.48,96.57 L106.57,97.58 L106.67,98.58 L106.76,99.58 L106.86,100.57 L106.95,101.57 L107.04,102.57 L107.14,103.57 L107.23,104.57 L107.33,105.57 L107.42,106.58 L107.52,107.60 L107.61,108.63 L107.71,109.66 L107.80,110.70 L107.90,111.74 L107.99,112.80 L108.08,113.31 L108.18,113.84 L108.27,114.36 L108.37,114.20 L108.46,114.04 L108.56,113.89 L108.65,113.73 L108.75,113.58 L108.84,114.24 L108.94,114.89 L109.03,115.55 L109.13,116.20 L109.22,116.84 L109.31,117.47 L109.41,117.06 L109.50,116.65 L109.60,116.22 L109.69,115.79 L109.79,115.35 L109.88,114.91 L109.98,114.46 L110.07,114.00 L110.17,113.54 L110.26,113.08 L110.36,112.62 L110.45,112.16 L110.54,111.70 L110.64,111.25 L110.73,110.79 L110.83,110.34 L110.92,109.41 L111.02,108.49 L111.11,107.57 L111.21,106.65 L111.30,105.75 L111.40,104.85 L111.49,103.96 L111.59,103.08 L111.68,102.20 L111.77,101.33 L111.87,100.46 L111.96,99.59 L112.06,98.54 L112.15,97.49 L112.25,96.44 L112.34,95.39 L112.44,94.33 L112.53,93.27 L112.63,92.20 L112.72,91.13 L112.81,90.05 L112.91,88.96 L113.00,88.38 L113.10,87.79 L113.19,87.20 L113.29,86.59 L113.38,85.98 L113.48,85.37 L113.57,84.75 L113.67,84.13 L113.76,83.51 L113.86,82.89 L113.95,82.27 L114.04,81.65 L114.14,81.04 L114.23,80.43 L114.33,79.83 L114.42,79.23 L114.52,78.64 L114.61,78.05 L114.71,77.48 L114.80,76.91 L114.90,76.34 L114.99,75.79 L115.09,75.24 L115.18,74.69 L115.27,73.88 L115.37,73.07 L115.46,72.26 L115.56,71.46 L115.65,70.65 L115.75,69.84 L115.84,69.02 L115.94,68.21 L116.03,67.38 L116.13,66.55 L116.22,65.72 L116.32,64.87 L116.41,64.02 L116.50,63.16 L116.60,62.53 L116.69,61.89 L116.79,61.24 L116.88,60.58 L116.98,59.93 L117.07,59.27 L117.17,60.07 L117.26,60.87 L117.36,61.67 L117.45,62.47 L117.55,63.28 L117.64,64.82 L117.73,66.36 L117.83,67.91 L117.92,69.47 L118.02,71.04 L118.11,72.61 L118.21,74.19 L118.30,75.77 L118.40,77.37 L118.49,78.97 L118.59,80.57 L118.68,82.18 L118.77,83.79 L118.87,85.41 L118.96,87.02 L119.06,88.64 L119.15,90.25 L119.25,91.86 L119.34,93.47 L119.44,95.07 L119.53,96.67 L119.63,98.26 L119.72,99.84 L119.82,101.41 L119.91,102.98 L120.00,104.54 L120.10,106.09 L120.19,107.64 L120.29,109.18 L120.38,110.72 L120.48,112.25 L120.57,113.78 L120.67,115.31 L120.76,116.84 L120.86,118.37 L120.95,119.91 L121.05,121.45 L121.14,122.99 L121.23,124.54 L121.33,126.09 L121.42,127.66 L121.52,128.50 L121.61,129.36 L121.71,130.22 L121.80,131.09 L121.90,131.96 L121.99,132.84 L122.09,133.73 L122.18,134.62 L122.27,135.51 L122.37,136.40 L122.46,137.29 L122.56,138.19 L122.65,139.08 L122.75,139.96 L122.84,140.67 L122.94,141.38 L123.03,142.08 L123.13,142.78 L123.22,143.46 L123.32,144.14 L123.41,144.81 L123.50,145.48 L123.60,146.14 L123.69,146.79 L123.79,147.44 L123.88,148.08 L123.98,148.72 L124.07,149.36 L124.17,150.00 L124.26,150.64 L124.36,151.39 L124.45,152.15 L124.55,152.91 L124.64,153.68 L124.73,154.46 L124.83,155.24 L124.92,156.02 L125.02,156.82 L125.11,157.62 L125.21,158.43 L125.30,157.61 L125.40,156.79 L125.49,155.99 L125.59,155.18 L125.68,154.38 L125.78,153.58 L125.87,152.78 L125.96,151.97 L126.06,151.17 L126.15,150.36 L126.25,149.03 L126.34,147.70 L126.44,146.35 L126.53,145.00 L126.63,143.65 L126.72,142.28 L126.82,140.91 L126.91,139.53 L127.00,139.33 L127.10,139.11 L127.19,138.89 L127.29,138.67 L127.38,138.44 L127.48,138.22 L127.57,137.99 L127.67,137.76 L127.76,138.12 L127.86,138.48 L127.95,138.84 L128.05,139.21 L128.14,139.58 L128.23,138.77 L128.33,137.97 L128.42,137.18 L128.52,136.39 L128.61,135.61 L128.71,135.84 L128.80,136.09 L128.90,136.34 L128.99,136.59 L129.09,136.85 L129.18,137.11 L129.28,137.37 L129.37,137.62 L129.46,137.88 L129.56,138.14 L129.65,138.39 L129.75,138.64 L129.84,138.88 L129.94,139.11 L130.03,139.34 L130.13,139.56 L130.22,140.46 L130.32,141.36 L130.41,142.25 L130.51,143.13 L130.60,144.01 L130.69,144.88 L130.79,145.75 L130.88,146.62 L130.98,147.49 L131.07,148.36 L131.17,149.22 L131.26,150.09 L131.36,151.15 L131.45,152.21 L131.55,153.28 L131.64,154.35 L131.73,155.43 L131.83,156.52 L131.92,157.61 L132.02,158.72 L132.11,159.82 L132.21,160.94 L132.30,161.79 L132.40,162.65 L132.49,163.50 L132.59,164.37 L132.68,165.23 L132.78,166.09 L132.87,166.95 L132.96,167.81 L133.06,168.67 L133.15,169.52 L133.25,170.37 L133.34,171.21 L133.44,172.04 L133.53,172.86 L133.63,173.68 L133.72,174.49 L133.82,175.30 L133.91,176.09 L134.01,176.89 L134.10,177.67 L134.19,178.45 L134.29,179.23 L134.38,180.01 L134.48,180.79 L134.57,181.57 L134.67,182.35 L134.76,183.53 L134.86,184.72 L134.95,185.91 L135.05,187.10 L135.14,188.31 L135.24,189.52 L135.33,190.74 L135.42,191.96 L135.52,193.19 L135.61,194.43 L135.71,195.68 L135.80,196.52 L135.90,197.36 L135.99,198.21 L136.09,199.06 L136.18,198.16 L136.28,197.26 L136.37,196.35 L136.47,195.45 L136.56,194.54 L136.65,193.06 L136.75,191.57 L136.84,190.07 L136.94,188.57 L137.03,187.06 L137.13,185.54 L137.22,184.02 L137.32,182.49 L137.41,180.95 L137.51,179.41 L137.60,177.86 L137.69,176.31 L137.79,174.76 L137.88,173.20 L137.98,171.65 L138.07,170.10 L138.17,168.55 L138.26,167.01 L138.36,165.47 L138.45,163.93 L138.55,162.41 L138.64,160.89 L138.74,159.37 L138.83,157.87 L138.92,156.37 L139.02,154.88 L139.11,153.39 L139.21,151.92 L139.30,150.44 L139.40,148.97 L139.49,147.50 L139.59,146.03 L139.68,144.57 L139.78,143.10 L139.87,141.62 L139.97,140.15 L140.06,138.67 L140.15,137.18 L140.25,135.69 L140.34,134.19 L140.44,132.68 L140.53,131.16 L140.63,129.64 L140.72,128.11 L140.82,126.23 L140.91,124.34 L141.01,122.44 L141.10,120.55 L141.19,118.64 L141.29,116.74 L141.38,114.84 L141.48,112.94 L141.57,112.06 L141.67,111.18 L141.76,110.30 L141.86,109.43 L141.95,108.57 L142.05,107.72 L142.14,106.87 L142.24,106.03 L142.33,105.20 L142.42,104.37 L142.52,103.98 L142.61,103.60 L142.71,103.23 L142.80,102.86 L142.90,102.49 L142.99,102.12 L143.09,101.76 L143.18,101.39 L143.28,101.02 L143.37,100.65 L143.47,100.27 L143.56,99.89 L143.65,99.50 L143.75,99.10 L143.84,98.70 L143.94,98.29 L144.03,97.87 L144.13,97.44 L144.22,97.01 L144.32,96.57 L144.41,97.58 L144.51,98.58 L144.60,99.58 L144.70,100.57 L144.79,101.57 L144.88,102.57 L144.98,103.57 L145.07,104.57 L145.17,105.57 L145.26,106.58 L145.36,107.60 L145.45,108.63 L145.55,109.66 L145.64,110.70 L145.74,111.74 L145.83,112.80 L145.93,113.31 L146.02,113.84 L146.11,114.36 L146.21,114.20 L146.30,114.04 L146.40,113.89 L146.49,113.73 L146.59,113.58 L146.68,114.24 L146.78,114.89 L146.87,115.55 L146.97,116.20 L147.06,116.84 L147.15,117.47 L147.25,117.06 L147.34,116.65 L147.44,116.22 L147.53,115.79 L147.63,115.35 L147.72,114.91 L147.82,114.46 L147.91,114.00 L148.01,113.54 L148.10,113.08 L148.20,112.62 L148.29,112.16 L148.38,111.70 L148.48,111.25 L148.57,110.79 L148.67,110.34 L148.76,109.41 L148.86,108.49 L148.95,107.57 L149.05,106.65 L149.14,105.75 L149.24,104.85 L149.33,103.96 L149.43,103.08 L149.52,102.20 L149.61,101.33 L149.71,100.46 L149.80,99.59 L149.90,98.54 L149.99,97.49 L150.09,96.44 L150.18,95.39 L150.28,94.33 L150.37,93.27 L150.47,92.20 L150.56,91.13 L150.66,90.05 L150.75,88.96 L150.84,88.38 L150.94,87.79 L151.03,87.20 L151.13,86.59 L151.22,85.98 L151.32,85.37 L151.41,84.75 L151.51,84.13 L151.60,83.51 L151.70,82.89 L151.79,82.27 L151.88,81.65 L151.98,81.04 L152.07,80.43 L152.17,79.83 L152.26,79.23 L152.36,78.64 L152.45,78.05 L152.55,77.48 L152.64,76.91 L152.74,76.34 L152.83,75.79 L152.93,75.24 L153.02,74.69 L153.11,73.88 L153.21,73.07 L153.30,72.26 L153.40,71.46 L153.49,70.65 L153.59,69.84 L153.68,69.02 L153.78,68.21 L153.87,67.38 L153.97,66.55 L154.06,65.72 L154.16,64.87 L154.25,64.02 L154.34,63.16 L154.44,62.53 L154.53,61.89 L154.63,61.24 L154.72,60.58 L154.82,59.93 L154.91,59.27 L155.01,60.07 L155.10,60.87 L155.20,61.67 L155.29,62.47 L155.38,63.28 L155.48,64.82 L155.57,66.36 L155.67,67.91 L155.76,69.47 L155.86,71.04 L155.95,72.61 L156.05,74.19 L156.14,75.77 L156.24,77.37 L156.33,78.97 L156.43,80.57 L156.52,82.18 L156.61,83.79 L156.71,85.41 L156.80,87.02 L156.90,88.64 L156.99,90.25 L157.09,91.86 L157.18,93.47 L157.28,95.07 L157.37,96.67 L157.47,98.26 L157.56,99.84 L157.66,101.41 L157.75,102.98 L157.84,104.54 L157.94,106.09 L158.03,107.64 L158.13,109.18 L158.22,110.72 L158.32,112.25 L158.41,113.78 L158.51,115.31 L158.60,116.84 L158.70,118.37 L158.79,119.91 L158.89,121.45 L158.98,122.99 L159.07,124.54 L159.17,126.09 L159.26,127.66 L159.36,128.50 L159.45,129.36 L159.55,130.22 L159.64,131.09 L159.74,131.96 L159.83,132.84 L159.93,133.73 L160.02,134.62 L160.11,135.51 L160.21,136.40 L160.30,137.29 L160.40,138.19 L160.49,139.08 L160.59,139.96 L160.68,140.67 L160.78,141.38 L160.87,142.08 L160.97,142.78 L161.06,143.46 L161.16,144.14 L161.25,144.81 L161.34,145.48 L161.44,146.14 L161.53,146.79 L161.63,147.44 L161.72,148.08 L161.82,148.72 L161.91,149.36 L162.01,150.00 L162.10,150.64 L162.20,151.39 L162.29,152.15 L162.39,152.91 L162.48,153.68 L162.57,154.46 L162.67,155.24 L162.76,156.02 L162.86,156.82 L162.95,157.62 L163.05,158.43 L163.14,157.61 L163.24,156.79 L163.33,155.99 L163.43,155.18 L163.52,154.38 L163.62,153.58 L163.71,152.78 L163.80,151.97 L163.90,151.17 L163.99,150.36 L164.09,149.03 L164.18,147.70 L164.28,146.35 L164.37,145.00 L164.47,143.65 L164.56,142.28 L164.66,140.91 L164.75,139.53 L164.84,139.33 L164.94,139.11 L165.03,138.89 L165.13,138.67 L165.22,138.44 L165.32,138.22 L165.41,137.99 L165.51,137.76 L165.60,138.12 L165.70,138.48 L165.79,138.84 L165.89,139.21 L165.98,139.58 L166.07,138.77 L166.17,137.97 L166.26,137.18 L166.36,136.39 L166.45,135.61 L166.55,135.84 L166.64,136.09 L166.74,136.34 L166.83,136.59 L166.93,136.85 L167.02,137.11 L167.12,137.37 L167.21,137.62 L167.30,137.88 L167.40,138.14 L167.49,138.39 L167.59,138.64 L167.68,138.88 L167.78,139.11 L167.87,139.34 L167.97,139.56 L168.06,140.46 L168.16,141.36 L168.25,142.25 L168.35,143.13 L168.44,144.01 L168.53,144.88 L168.63,145.75 L168.72,146.62 L168.82,147.49 L168.91,148.36 L169.01,149.22 L169.10,150.09 L169.20,151.15 L169.29,152.21 L169.39,153.28 L169.48,154.35 L169.57,155.43 L169.67,156.52 L169.76,157.61 L169.86,158.72 L169.95,159.82 L170.05,160.94 L170.14,161.79 L170.24,162.65 L170.33,163.50 L170.43,164.37 L170.52,165.23 L170.62,166.09 L170.71,166.95 L170.80,167.81 L170.90,168.67 L170.99,169.52 L171.09,170.37 L171.18,171.21 L171.28,172.04 L171.37,172.86 L171.47,173.68 L171.56,174.49 L171.66,175.30 L171.75,176.09 L171.85,176.89 L171.94,177.67 L172.03,178.45 L172.13,179.23 L172.22,180.01 L172.32,180.79 L172.41,181.57 L172.51,182.35 L172.60,183.53 L172.70,184.72 L172.79,185.91 L172.89,187.10 L172.98,188.31 L173.08,189.52 L173.17,190.74 L173.26,191.96 L173.36,193.19 L173.45,194.43 L173.55,195.68 L173.64,196.52 L173.74,197.36 L173.83,198.21 L173.93,199.06 L174.02,198.16 L174.12,197.26 L174.21,196.35 L174.31,195.45 L174.40,194.54 L174.49,193.06 L174.59,191.57 L174.68,190.07 L174.78,188.57 L174.87,187.06 L174.97,185.54 L175.06,184.02 L175.16,182.49 L175.25,180.95 L175.35,179.41 L175.44,177.86 L175.53,176.31 L175.63,174.76 L175.72,173.20 L175.82,171.65 L175.91,170.10 L176.01,168.55 L176.10,167.01 L176.20,165.47 L176.29,163.93 L176.39,162.41 L176.48,160.89 L176.58,159.37 L176.67,157.87 L176.76,156.37 L176.86,154.88 L176.95,153.39 L177.05,151.92 L177.14,150.44 L177.24,148.97 L177.33,147.50 L177.43,146.03 L177.52,144.57 L177.62,143.10 L177.71,141.62 L177.81,140.15 L177.90,138.67 L177.99,137.18 L178.09,135.69 L178.18,134.19 L178.28,132.68 L178.37,131.16 L178.47,129.64 L178.56,128.11 L178.66,126.23 L178.75,124.34 L178.85,122.44 L178.94,120.55 L179.03,118.64 L179.13,116.74 L179.22,114.84 L179.32,112.94 L179.41,112.06 L179.51,111.18 L179.60,110.30 L179.70,109.43 L179.79,108.57 L179.89,107.72 L179.98,106.87 L180.08,106.03 L180.17,105.20 L180.26,104.37 L180.36,103.98 L180.45,103.60 L180.55,103.23 L180.64,102.86 L180.74,102.49 L180.83,102.12 L180.93,101.76 L181.02,101.39 L181.12,101.02 L181.21,100.65 L181.31,100.27 L181.40,99.89 L181.49,99.50 L181.59,99.10 L181.68,98.70 L181.78,98.29 L181.87,97.87 L181.97,97.44 L182.06,97.01 L182.16,96.57 L182.25,97.58 L182.35,98.58 L182.44,99.58 L182.54,100.57 L182.63,101.57 L182.72,102.57 L182.82,103.57 L182.91,104.57 L183.01,105.57 L183.10,106.58 L183.20,107.60 L183.29,108.63 L183.39,109.66 L183.48,110.70 L183.58,111.74 L183.67,112.80 L183.76,113.31 L183.86,113.84 L183.95,114.36 L184.05,114.20 L184.14,114.04 L184.24,113.89 L184.33,113.73 L184.43,113.58 L184.52,114.24 L184.62,114.89 L184.71,115.55 L184.81,116.20 L184.90,116.84 L184.99,117.47 L185.09,117.06 L185.18,116.65 L185.28,116.22 L185.37,115.79 L185.47,115.35 L185.56,114.91 L185.66,114.46 L185.75,114.00 L185.85,113.54 L185.94,113.08 L186.04,112.62 L186.13,112.16 L186.22,111.70 L186.32,111.25 L186.41,110.79 L186.51,110.34 L186.60,109.41 L186.70,108.49 L186.79,107.57 L186.89,106.65 L186.98,105.75 L187.08,104.85 L187.17,103.96 L187.27,103.08 L187.36,102.20 L187.45,101.33 L187.55,100.46 L187.64,99.59 L187.74,98.54 L187.83,97.49 L187.93,96.44 L188.02,95.39 L188.12,94.33 L188.21,93.27 L188.31,92.20 L188.40,91.13 L188.49,90.05 L188.59,88.96 L188.68,88.38 L188.78,87.79 L188.87,87.20 L188.97,86.59 L189.06,85.98 L189.16,85.37 L189.25,84.75 L189.35,84.13 L189.44,83.51 L189.54,82.89 L189.63,82.27 L189.72,81.65 L189.82,81.04 L189.91,80.43 L190.01,79.83 L190.10,79.23 L190.20,78.64 L190.29,78.05 L190.39,77.48 L190.48,76.91 L190.58,76.34 L190.67,75.79 L190.77,75.24 L190.86,74.69 L190.95,73.88 L191.05,73.07 L191.14,72.26 L191.24,71.46 L191.33,70.65 L191.43,69.84 L191.52,69.02 L191.62,68.21 L191.71,67.38 L191.81,66.55 L191.90,65.72 L192.00,64.87 L192.09,64.02 L192.18,63.16 L192.28,62.53 L192.37,61.89 L192.47,61.24 L192.56,60.58 L192.66,59.93 L192.75,59.27 L192.85,60.07 L192.94,60.87 L193.04,61.67 L193.13,62.47 L193.22,63.28 L193.32,64.82 L193.41,66.36 L193.51,67.91 L193.60,69.47 L193.70,71.04 L193.79,72.61 L193.89,74.19 L193.98,75.77 L194.08,77.37 L194.17,78.97 L194.27,80.57 L194.36,82.18 L194.45,83.79 L194.55,85.41 L194.64,87.02 L194.74,88.64 L194.83,90.25 L194.93,91.86 L195.02,93.47 L195.12,95.07 L195.21,96.67 L195.31,98.26 L195.40,99.84 L195.50,101.41 L195.59,102.98 L195.68,104.54 L195.78,106.09 L195.87,107.64 L195.97,109.18 L196.06,110.72 L196.16,112.25 L196.25,113.78 L196.35,115.31 L196.44,116.84 L196.54,118.37 L196.63,119.91 L196.73,121.45 L196.82,122.99 L196.91,124.54 L197.01,126.09 L197.10,127.66 L197.20,128.50 L197.29,129.36 L197.39,130.22 L197.48,131.09 L197.58,131.96 L197.67,132.84 L197.77,133.73 L197.86,134.62 L197.95,135.51 L198.05,136.40 L198.14,137.29 L198.24,138.19 L198.33,139.08 L198.43,139.96 L198.52,140.67 L198.62,141.38 L198.71,142.08 L198.81,142.78 L198.90,143.46 L199.00,144.14 L199.09,144.81 L199.18,145.48 L199.28,146.14 L199.37,146.79 L199.47,147.44 L199.56,148.08 L199.66,148.72 L199.75,149.36 L199.85,150.00 L199.94,150.64 L200.04,151.39 L200.13,152.15 L200.23,152.91 L200.32,153.68 L200.41,154.46 L200.51,155.24 L200.60,156.02 L200.70,156.82 L200.79,157.62 L200.89,158.43 L200.98,157.61 L201.08,156.79 L201.17,155.99 L201.27,155.18 L201.36,154.38 L201.46,153.58 L201.55,152.78 L201.64,151.97 L201.74,151.17 L201.83,150.36 L201.93,149.03 L202.02,147.70 L202.12,146.35 L202.21,145.00 L202.31,143.65 L202.40,142.28 L202.50,140.91 L202.59,139.53 L202.69,139.33 L202.78,139.11 L202.87,138.89 L202.97,138.67 L203.06,138.44 L203.16,138.22 L203.25,137.99 L203.35,137.76 L203.44,138.12 L203.54,138.48 L203.63,138.84 L203.73,139.21 L203.82,139.58 L203.91,138.77 L204.01,137.97 L204.10,137.18 L204.20,136.39 L204.29,135.61 L204.39,135.84 L204.48,136.09 L204.58,136.34 L204.67,136.59 L204.77,136.85 L204.86,137.11 L204.96,137.37 L205.05,137.62 L205.14,137.88 L205.24,138.14 L205.33,138.39 L205.43,138.64 L205.52,138.88 L205.62,139.11 L205.71,139.34 L205.81,139.56 L205.90,140.46 L206.00,141.36 L206.09,142.25 L206.19,143.13 L206.28,144.01 L206.37,144.88 L206.47,145.75 L206.56,146.62 L206.66,147.49 L206.75,148.36 L206.85,149.22 L206.94,150.09 L207.04,151.15 L207.13,152.21 L207.23,153.28 L207.32,154.35 L207.41,155.43 L207.51,156.52 L207.60,157.61 L207.70,158.72 L207.79,159.82 L207.89,160.94 L207.98,161.79 L208.08,162.65 L208.17,163.50 L208.27,164.37 L208.36,165.23 L208.46,166.09 L208.55,166.95 L208.64,167.81 L208.74,168.67 L208.83,169.52 L208.93,170.37 L209.02,171.21 L209.12,172.04 L209.21,172.86 L209.31,173.68 L209.40,174.49 L209.50,175.30 L209.59,176.09 L209.69,176.89 L209.78,177.67 L209.87,178.45 L209.97,179.23 L210.06,180.01 L210.16,180.79 L210.25,181.57 L210.35,182.35 L210.44,183.53 L210.54,184.72 L210.63,185.91 L210.73,187.10 L210.82,188.31 L210.92,189.52 L211.01,190.74 L211.10,191.96 L211.20,193.19 L211.29,194.43 L211.39,195.68 L211.48,196.52 L211.58,197.36 L211.67,198.21 L211.77,199.06 L211.86,198.16 L211.96,197.26 L212.05,196.35 L212.14,195.45 L212.24,194.54 L212.33,193.06 L212.43,191.57 L212.52,190.07 L212.62,188.57 L212.71,187.06 L212.81,185.54 L212.90,184.02 L213.00,182.49 L213.09,180.95 L213.19,179.41 L213.28,177.86 L213.37,176.31 L213.47,174.76 L213.56,173.20 L213.66,171.65 L213.75,170.10 L213.85,168.55 L213.94,167.01 L214.04,165.47 L214.13,163.93 L214.23,162.41 L214.32,160.89 L214.42,159.37 L214.51,157.87 L214.60,156.37 L214.70,154.88 L214.79,153.39 L214.89,151.92 L214.98,150.44 L215.08,148.97 L215.17,147.50 L215.27,146.03 L215.36,144.57 L215.46,143.10 L215.55,141.62 L215.65,140.15 L215.74,138.67 L215.83,137.18 L215.93,135.69 L216.02,134.19 L216.12,132.68 L216.21,131.16 L216.31,129.64 L216.40,128.11 L216.50,126.23 L216.59,124.34 L216.69,122.44 L216.78,120.55 L216.87,118.64 L216.97,116.74 L217.06,114.84 L217.16,112.94 L217.25,112.06 L217.35,111.18 L217.44,110.30 L217.54,109.43 L217.63,108.57 L217.73,107.72 L217.82,106.87 L217.92,106.03 L218.01,105.20 L218.10,104.37 L218.20,103.98 L218.29,103.60 L218.39,103.23 L218.48,102.86 L218.58,102.49 L218.67,102.12 L218.77,101.76 L218.86,101.39 L218.96,101.02 L219.05,100.65 L219.15,100.27 L219.24,99.89 L219.33,99.50 L219.43,99.10 L219.52,98.70 L219.62,98.29 L219.71,97.87 L219.81,97.44 L219.90,97.01 L220.00,96.57 L220.09,97.58 L220.19,98.58 L220.28,99.58 L220.38,100.57 L220.47,101.57 L220.56,102.57 L220.66,103.57 L220.75,104.57 L220.85,105.57 L220.94,106.58 L221.04,107.60 L221.13,108.63 L221.23,109.66 L221.32,110.70 L221.42,111.74 L221.51,112.80 L221.60,113.31 L221.70,113.84 L221.79,114.36 L221.89,114.20 L221.98,114.04 L222.08,113.89 L222.17,113.73 L222.27,113.58 L222.36,114.24 L222.46,114.89 L222.55,115.55 L222.65,116.20 L222.74,116.84 L222.83,117.47 L222.93,117.06 L223.02,116.65 L223.12,116.22 L223.21,115.79 L223.31,115.35 L223.40,114.91 L223.50,114.46 L223.59,114.00 L223.69,113.54 L223.78,113.08 L223.88,112.62 L223.97,112.16 L224.06,111.70 L224.16,111.25 L224.25,110.79 L224.35,110.34 L224.44,109.41 L224.54,108.49 L224.63,107.57 L224.73,106.65 L224.82,105.75 L224.92,104.85 L225.01,103.96 L225.11,103.08 L225.20,102.20 L225.29,101.33 L225.39,100.46 L225.48,99.59 L225.58,98.54 L225.67,97.49 L225.77,96.44 L225.86,95.39 L225.96,94.33 L226.05,93.27 L226.15,92.20 L226.24,91.13 L226.33,90.05 L226.43,88.96 L226.52,88.38 L226.62,87.79 L226.71,87.20 L226.81,86.59 L226.90,85.98 L227.00,85.37 L227.09,84.75 L227.19,84.13 L227.28,83.51 L227.38,82.89 L227.47,82.27 L227.56,81.65 L227.66,81.04 L227.75,80.43 L227.85,79.83 L227.94,79.23 L228.04,78.64 L228.13,78.05 L228.23,77.48 L228.32,76.91 L228.42,76.34 L228.51,75.79 L228.61,75.24 L228.70,74.69" stroke="#ff0000" stroke-width="1.60"/>
<path d="M39.50,122.51 L39.59,122.96 L39.69,123.30 L39.78,123.47 L39.88,123.42 L39.97,123.12 L40.07,122.56 L40.16,121.75 L40.26,120.76 L40.35,119.64 L40.45,118.48 L40.54,117.38 L40.64,116.42 L40.73,115.69 L40.82,115.24 L40.92,115.12 L41.01,115.32 L41.11,115.84 L41.20,116.64 L41.30,117.64 L41.39,118.77 L41.49,119.96 L41.58,121.13 L41.68,122.21 L41.77,123.16 L41.87,123.93 L41.96,124.51 L42.05,124.90 L42.15,125.11 L42.24,125.17 L42.34,125.10 L42.43,124.92 L42.53,124.67 L42.62,124.35 L42.72,123.98 L42.81,123.57 L42.91,123.11 L43.00,122.63 L43.09,122.11 L43.19,121.58 L43.28,121.03 L43.38,120.49 L43.47,119.98 L43.57,119.52 L43.66,119.13 L43.76,118.82 L43.85,118.60 L43.95,118.48 L44.04,118.46 L44.14,118.51 L44.23,118.63 L44.32,118.81 L44.42,119.03 L44.51,119.28 L44.61,119.57 L44.70,119.91 L44.80,120.30 L44.89,120.77 L44.99,121.34 L45.08,122.02 L45.18,122.82 L45.27,123.75 L45.37,124.79 L45.46,125.89 L45.55,127.03 L45.65,128.12 L45.74,129.12 L45.84,129.94 L45.93,130.53 L46.03,130.82 L46.12,130.79 L46.22,130.43 L46.31,129.73 L46.41,128.75 L46.50,127.53 L46.59,126.15 L46.69,124.70 L46.78,123.27 L46.88,121.93 L46.97,120.75 L47.07,119.80 L47.16,119.11 L47.26,118.69 L47.35,118.55 L47.45,118.65 L47.54,118.97 L47.64,119.46 L47.73,120.08 L47.82,120.80 L47.92,121.57 L48.01,122.36 L48.11,123.16 L48.20,123.96 L48.30,124.73 L48.39,125.48 L48.49,126.21 L48.58,126.90 L48.68,127.54 L48.77,128.13 L48.87,128.65 L48.96,129.07 L49.05,129.38 L49.15,129.58 L49.24,129.64 L49.34,129.56 L49.43,129.36 L49.53,129.06 L49.62,128.66 L49.72,128.21 L49.81,127.73 L49.91,127.25 L50.00,126.80 L50.10,126.40 L50.19,126.07 L50.28,125.81 L50.38,125.63 L50.47,125.50 L50.57,125.43 L50.66,125.39 L50.76,125.37 L50.85,125.36 L50.95,125.34 L51.04,125.32 L51.14,125.29 L51.23,125.27 L51.32,125.26 L51.42,125.28 L51.51,125.35 L51.61,125.49 L51.70,125.71 L51.80,126.02 L51.89,126.43 L51.99,126.93 L52.08,127.51 L52.18,128.17 L52.27,128.88 L52.37,129.60 L52.46,130.32 L52.55,130.99 L52.65,131.58 L52.74,132.05 L52.84,132.37 L52.93,132.52 L53.03,132.49 L53.12,132.25 L53.22,131.83 L53.31,131.23 L53.41,130.49 L53.50,129.65 L53.60,128.75 L53.69,127.84 L53.78,126.99 L53.88,126.24 L53.97,125.63 L54.07,125.19 L54.16,124.95 L54.26,124.91 L54.35,125.05 L54.45,125.36 L54.54,125.80 L54.64,126.32 L54.73,126.89 L54.83,127.47 L54.92,128.03 L55.01,128.54 L55.11,129.00 L55.20,129.40 L55.30,129.76 L55.39,130.08 L55.49,130.40 L55.58,130.72 L55.68,131.05 L55.77,131.41 L55.87,131.78 L55.96,132.15 L56.05,132.49 L56.15,132.78 L56.24,132.98 L56.34,133.07 L56.43,133.03 L56.53,132.86 L56.62,132.56 L56.72,132.16 L56.81,131.69 L56.91,131.19 L57.00,130.71 L57.10,130.29 L57.19,129.97 L57.28,129.76 L57.38,129.67 L57.47,129.69 L57.57,129.79 L57.66,129.92 L57.76,130.06 L57.85,130.14 L57.95,130.13 L58.04,130.00 L58.14,129.76 L58.23,129.40 L58.33,128.97 L58.42,128.52 L58.51,128.11 L58.61,127.81 L58.70,127.68 L58.80,127.77 L58.89,128.12 L58.99,128.72 L59.08,129.57 L59.18,130.61 L59.27,131.77 L59.37,132.97 L59.46,134.12 L59.56,135.13 L59.65,135.90 L59.74,136.40 L59.84,136.57 L59.93,136.41 L60.03,135.93 L60.12,135.19 L60.22,134.23 L60.31,133.14 L60.41,132.00 L60.50,130.88 L60.60,129.84 L60.69,128.95 L60.78,128.22 L60.88,127.69 L60.97,127.34 L61.07,127.17 L61.16,127.16 L61.26,127.27 L61.35,127.49 L61.45,127.79 L61.54,128.15 L61.64,128.56 L61.73,129.02 L61.83,129.51 L61.92,130.03 L62.01,130.59 L62.11,131.16 L62.20,131.74 L62.30,132.32 L62.39,132.86 L62.49,133.36 L62.58,133.78 L62.68,134.12 L62.77,134.37 L62.87,134.52 L62.96,134.58 L63.06,134.55 L63.15,134.45 L63.24,134.30 L63.34,134.10 L63.43,133.87 L63.53,133.60 L63.62,133.29 L63.72,132.91 L63.81,132.46 L63.91,131.91 L64.00,131.24 L64.10,130.45 L64.19,129.53 L64.29,128.51 L64.38,127.41 L64.47,126.28 L64.57,125.19 L64.66,124.20 L64.76,123.38 L64.85,122.79 L64.95,122.50 L65.04,122.52 L65.14,122.89 L65.23,123.58 L65.33,124.55 L65.42,125.76 L65.52,127.13 L65.61,128.57 L65.70,130.00 L65.80,131.32 L65.89,132.48 L65.99,133.42 L66.08,134.09 L66.18,134.49 L66.27,134.62 L66.37,134.49 L66.46,134.15 L66.56,133.63 L66.65,132.98 L66.74,132.24 L66.84,131.44 L66.93,130.62 L67.03,129.79 L67.12,128.97 L67.22,128.16 L67.31,127.37 L67.41,126.61 L67.50,125.89 L67.60,125.21 L67.69,124.58 L67.79,124.03 L67.88,123.57 L67.97,123.21 L68.07,122.98 L68.16,122.88 L68.26,122.91 L68.35,123.07 L68.45,123.33 L68.54,123.68 L68.64,124.09 L68.73,124.53 L68.83,124.96 L68.92,125.36 L69.02,125.71 L69.11,126.00 L69.20,126.21 L69.30,126.35 L69.39,126.43 L69.49,126.46 L69.58,126.45 L69.68,126.42 L69.77,126.39 L69.87,126.36 L69.96,126.33 L70.06,126.31 L70.15,126.29 L70.25,126.26 L70.34,126.19 L70.43,126.07 L70.53,125.89 L70.62,125.62 L70.72,125.27 L70.81,124.82 L70.91,124.28 L71.00,123.65 L71.10,122.95 L71.19,122.20 L71.29,121.44 L71.38,120.68 L71.47,119.97 L71.57,119.35 L71.66,118.84 L71.76,118.48 L71.85,118.30 L71.95,118.30 L72.04,118.50 L72.14,118.89 L72.23,119.46 L72.33,120.17 L72.42,120.99 L72.52,121.86 L72.61,122.74 L72.70,123.56 L72.80,124.29 L72.89,124.88 L72.99,125.29 L73.08,125.52 L73.18,125.54 L73.27,125.38 L73.37,125.06 L73.46,124.61 L73.56,124.07 L73.65,123.49 L73.75,122.90 L73.84,122.33 L73.93,121.81 L74.03,121.35 L74.12,120.95 L74.22,120.59 L74.31,120.26 L74.41,119.95 L74.50,119.63 L74.60,119.30 L74.69,118.94 L74.79,118.58 L74.88,118.22 L74.97,117.88 L75.07,117.61 L75.16,117.42 L75.26,117.35 L75.35,117.40 L75.45,117.59 L75.54,117.91 L75.64,118.33 L75.73,118.82 L75.83,119.34 L75.92,119.84 L76.02,120.28 L76.11,120.63 L76.20,120.87 L76.30,120.98 L76.39,120.99 L76.49,120.93 L76.58,120.82 L76.68,120.72 L76.77,120.67 L76.87,120.71 L76.96,120.87 L77.06,121.16 L77.15,121.55 L77.25,122.02 L77.34,122.51 L77.43,122.96 L77.53,123.30 L77.62,123.47 L77.72,123.42 L77.81,123.12 L77.91,122.56 L78.00,121.75 L78.10,120.76 L78.19,119.64 L78.29,118.48 L78.38,117.38 L78.48,116.42 L78.57,115.69 L78.66,115.24 L78.76,115.12 L78.85,115.32 L78.95,115.84 L79.04,116.64 L79.14,117.64 L79.23,118.77 L79.33,119.96 L79.42,121.13 L79.52,122.21 L79.61,123.16 L79.70,123.93 L79.80,124.51 L79.89,124.90 L79.99,125.11 L80.08,125.17 L80.18,125.10 L80.27,124.92 L80.37,124.67 L80.46,124.35 L80.56,123.98 L80.65,123.57 L80.75,123.11 L80.84,122.63 L80.93,122.11 L81.03,121.58 L81.12,121.03 L81.22,120.49 L81.31,119.98 L81.41,119.52 L81.50,119.13 L81.60,118.82 L81.69,118.60 L81.79,118.48 L81.88,118.46 L81.98,118.51 L82.07,118.63 L82.16,118.81 L82.26,119.03 L82.35,119.28 L82.45,119.57 L82.54,119.91 L82.64,120.30 L82.73,120.77 L82.83,121.34 L82.92,122.02 L83.02,122.82 L83.11,123.75 L83.21,124.79 L83.30,125.89 L83.39,127.03 L83.49,128.12 L83.58,129.12 L83.68,129.94 L83.77,130.53 L83.87,130.82 L83.96,130.79 L84.06,130.43 L84.15,129.73 L84.25,128.75 L84.34,127.53 L84.44,126.15 L84.53,124.70 L84.62,123.27 L84.72,121.93 L84.81,120.75 L84.91,119.80 L85.00,119.11 L85.10,118.69 L85.19,118.55 L85.29,118.65 L85.38,118.97 L85.48,119.46 L85.57,120.08 L85.66,120.80 L85.76,121.57 L85.85,122.36 L85.95,123.16 L86.04,123.96 L86.14,124.73 L86.23,125.48 L86.33,126.21 L86.42,126.90 L86.52,127.54 L86.61,128.13 L86.71,128.65 L86.80,129.07 L86.89,129.38 L86.99,129.58 L87.08,129.64 L87.18,129.56 L87.27,129.36 L87.37,129.06 L87.46,128.66 L87.56,128.21 L87.65,127.73 L87.75,127.25 L87.84,126.80 L87.94,126.40 L88.03,126.07 L88.12,125.81 L88.22,125.63 L88.31,125.50 L88.41,125.43 L88.50,125.39 L88.60,125.37 L88.69,125.36 L88.79,125.34 L88.88,125.32 L88.98,125.29 L89.07,125.27 L89.16,125.26 L89.26,125.28 L89.35,125.35 L89.45,125.49 L89.54,125.71 L89.64,126.02 L89.73,126.43 L89.83,126.93 L89.92,127.51 L90.02,128.17 L90.11,128.88 L90.21,129.60 L90.30,130.32 L90.39,130.99 L90.49,131.58 L90.58,132.05 L90.68,132.37 L90.77,132.52 L90.87,132.49 L90.96,132.25 L91.06,131.83 L91.15,131.23 L91.25,130.49 L91.34,129.65 L91.44,128.75 L91.53,127.84 L91.62,126.99 L91.72,126.24 L91.81,125.63 L91.91,125.19 L92.00,124.95 L92.10,124.91 L92.19,125.05 L92.29,125.36 L92.38,125.80 L92.48,126.32 L92.57,126.89 L92.67,127.47 L92.76,128.03 L92.85,128.54 L92.95,129.00 L93.04,129.40 L93.14,129.76 L93.23,130.08 L93.33,130.40 L93.42,130.72 L93.52,131.05 L93.61,131.41 L93.71,131.78 L93.80,132.15 L93.89,132.49 L93.99,132.78 L94.08,132.98 L94.18,133.07 L94.27,133.03 L94.37,132.86 L94.46,132.56 L94.56,132.16 L94.65,131.69 L94.75,131.19 L94.84,130.71 L94.94,130.29 L95.03,129.97 L95.12,129.76 L95.22,129.67 L95.31,129.69 L95.41,129.79 L95.50,129.92 L95.60,130.06 L95.69,130.14 L95.79,130.13 L95.88,130.00 L95.98,129.76 L96.07,129.40 L96.17,128.97 L96.26,128.52 L96.35,128.11 L96.45,127.81 L96.54,127.68 L96.64,127.77 L96.73,128.12 L96.83,128.72 L96.92,129.57 L97.02,130.61 L97.11,131.77 L97.21,132.97 L97.30,134.12 L97.40,135.13 L97.49,135.90 L97.58,136.40 L97.68,136.57 L97.77,136.41 L97.87,135.93 L97.96,135.19 L98.06,134.23 L98.15,133.14 L98.25,132.00 L98.34,130.88 L98.44,129.84 L98.53,128.95 L98.62,128.22 L98.72,127.69 L98.81,127.34 L98.91,127.17 L99.00,127.16 L99.10,127.27 L99.19,127.49 L99.29,127.79 L99.38,128.15 L99.48,128.56 L99.57,129.02 L99.67,129.51 L99.76,130.03 L99.85,130.59 L99.95,131.16 L100.04,131.74 L100.14,132.32 L100.23,132.86 L100.33,133.36 L100.42,133.78 L100.52,134.12 L100.61,134.37 L100.71,134.52 L100.80,134.58 L100.90,134.55 L100.99,134.45 L101.08,134.30 L101.18,134.10 L101.27,133.87 L101.37,133.60 L101.46,133.29 L101.56,132.91 L101.65,132.46 L101.75,131.91 L101.84,131.24 L101.94,130.45 L102.03,129.53 L102.13,128.51 L102.22,127.41 L102.31,126.28 L102.41,125.19 L102.50,124.20 L102.60,123.38 L102.69,122.79 L102.79,122.50 L102.88,122.52 L102.98,122.89 L103.07,123.58 L103.17,124.55 L103.26,125.76 L103.36,127.13 L103.45,128.57 L103.54,130.00 L103.64,131.32 L103.73,132.48 L103.83,133.42 L103.92,134.09 L104.02,134.49 L104.11,134.62 L104.21,134.49 L104.30,134.15 L104.40,133.63 L104.49,132.98 L104.58,132.24 L104.68,131.44 L104.77,130.62 L104.87,129.79 L104.96,128.97 L105.06,128.16 L105.15,127.37 L105.25,126.61 L105.34,125.89 L105.44,125.21 L105.53,124.58 L105.63,124.03 L105.72,123.57 L105.81,123.21 L105.91,122.98 L106.00,122.88 L106.10,122.91 L106.19,123.07 L106.29,123.33 L106.38,123.68 L106.48,124.09 L106.57,124.53 L106.67,124.96 L106.76,125.36 L106.86,125.71 L106.95,126.00 L107.04,126.21 L107.14,126.35 L107.23,126.43 L107.33,126.46 L107.42,126.45 L107.52,126.42 L107.61,126.39 L107.71,126.36 L107.80,126.33 L107.90,126.31 L107.99,126.29 L108.08,126.26 L108.18,126.19 L108.27,126.07 L108.37,125.89 L108.46,125.62 L108.56,125.27 L108.65,124.82 L108.75,124.28 L108.84,123.65 L108.94,122.95 L109.03,122.20 L109.13,121.44 L109.22,120.68 L109.31,119.97 L109.41,119.35 L109.50,118.84 L109.60,118.48 L109.69,118.30 L109.79,118.30 L109.88,118.50 L109.98,118.89 L110.07,119.46 L110.17,120.17 L110.26,120.99 L110.36,121.86 L110.45,122.74 L110.54,123.56 L110.64,124.29 L110.73,124.88 L110.83,125.29 L110.92,125.52 L111.02,125.54 L111.11,125.38 L111.21,125.06 L111.30,124.61 L111.40,124.07 L111.49,123.49 L111.59,122.90 L111.68,122.33 L111.77,121.81 L111.87,121.35 L111.96,120.95 L112.06,120.59 L112.15,120.26 L112.25,119.95 L112.34,119.63 L112.44,119.30 L112.53,118.94 L112.63,118.58 L112.72,118.22 L112.81,117.88 L112.91,117.61 L113.00,117.42 L113.10,117.35 L113.19,117.40 L113.29,117.59 L113.38,117.91 L113.48,118.33 L113.57,118.82 L113.67,119.34 L113.76,119.84 L113.86,120.28 L113.95,120.63 L114.04,120.87 L114.14,120.98 L114.23,120.99 L114.33,120.93 L114.42,120.82 L114.52,120.72 L114.61,120.67 L114.71,120.71 L114.80,120.87 L114.90,121.16 L114.99,121.55 L115.09,122.02 L115.18,122.51 L115.27,122.96 L115.37,123.30 L115.46,123.47 L115.56,123.42 L115.65,123.12 L115.75,122.56 L115.84,121.75 L115.94,120.76 L116.03,119.64 L116.13,118.48 L116.22,117.38 L116.32,116.42 L116.41,115.69 L116.50,115.24 L116.60,115.12 L116.69,115.32 L116.79,115.84 L116.88,116.64 L116.98,117.64 L117.07,118.77 L117.17,119.96 L117.26,121.13 L117.36,122.21 L117.45,123.16 L117.55,123.93 L117.64,124.51 L117.73,124.90 L117.83,125.11 L117.92,125.17 L118.02,125.10 L118.11,124.92 L118.21,124.67 L118.30,124.35 L118.40,123.98 L118.49,123.57 L118.59,123.11 L118.68,122.63 L118.77,122.11 L118.87,121.58 L118.96,121.03 L119.06,120.49 L119.15,119.98 L119.25,119.52 L119.34,119.13 L119.44,118.82 L119.53,118.60 L119.63,118.48 L119.72,118.46 L119.82,118.51 L119.91,118.63 L120.00,118.81 L120.10,119.03 L120.19,119.28 L120.29,119.57 L120.38,119.91 L120.48,120.30 L120.57,120.77 L120.67,121.34 L120.76,122.02 L120.86,122.82 L120.95,123.75 L121.05,124.79 L121.14,125.89 L121.23,127.03 L121.33,128.12 L121.42,129.12 L121.52,129.94 L121.61,130.53 L121.71,130.82 L121.80,130.79 L121.90,130.43 L121.99,129.73 L122.09,128.75 L122.18,127.53 L122.27,126.15 L122.37,124.70 L122.46,123.27 L122.56,121.93 L122.65,120.75 L122.75,119.80 L122.84,119.11 L122.94,118.69 L123.03,118.55 L123.13,118.65 L123.22,118.97 L123.32,119.46 L123.41,120.08 L123.50,120.80 L123.60,121.57 L123.69,122.36 L123.79,123.16 L123.88,123.96 L123.98,124.73 L124.07,125.48 L124.17,126.21 L124.26,126.90 L124.36,127.54 L124.45,128.13 L124.55,128.65 L124.64,129.07 L124.73,129.38 L124.83,129.58 L124.92,129.64 L125.02,129.56 L125.11,129.36 L125.21,129.06 L125.30,128.66 L125.40,128.21 L125.49,127.73 L125.59,127.25 L125.68,126.80 L125.78,126.40 L125.87,126.07 L125.96,125.81 L126.06,125.63 L126.15,125.50 L126.25,125.43 L126.34,125.39 L126.44,125.37 L126.53,125.36 L126.63,125.34 L126.72,125.32 L126.82,125.29 L126.91,125.27 L127.00,125.26 L127.10,125.28 L127.19,125.35 L127.29,125.49 L127.38,125.71 L127.48,126.02 L127.57,126.43 L127.67,126.93 L127.76,127.51 L127.86,128.17 L127.95,128.88 L128.05,129.60 L128.14,130.32 L128.23,130.99 L128.33,131.58 L128.42,132.05 L128.52,132.37 L128.61,132.52 L128.71,132.49 L128.80,132.25 L128.90,131.83 L128.99,131.23 L129.09,130.49 L129.18,129.65 L129.28,128.75 L129.37,127.84 L129.46,126.99 L129.56,126.24 L129.65,125.63 L129.75,125.19 L129.84,124.95 L129.94,124.91 L130.03,125.05 L130.13,125.36 L130.22,125.80 L130.32,126.32 L130.41,126.89 L130.51,127.47 L130.60,128.03 L130.69,128.54 L130.79,129.00 L130.88,129.40 L130.98,129.76 L131.07,130.08 L131.17,130.40 L131.26,130.72 L131.36,131.05 L131.45,131.41 L131.55,131.78 L131.64,132.15 L131.73,132.49 L131.83,132.78 L131.92,132.98 L132.02,133.07 L132.11,133.03 L132.21,132.86 L132.30,132.56 L132.40,132.16 L132.49,131.69 L132.59,131.19 L132.68,130.71 L132.78,130.29 L132.87,129.97 L132.96,129.76 L133.06,129.67 L133.15,129.69 L133.25,129.79 L133.34,129.92 L133.44,130.06 L133.53,130.14 L133.63,130.13 L133.72,130.00 L133.82,129.76 L133.91,129.40 L134.01,128.97 L134.10,128.52 L134.19,128.11 L134.29,127.81 L134.38,127.68 L134.48,127.77 L134.57,128.12 L134.67,128.72 L134.76,129.57 L134.86,130.61 L134.95,131.77 L135.05,132.97 L135.14,134.12 L135.24,135.13 L135.33,135.90 L135.42,136.40 L135.52,136.57 L135.61,136.41 L135.71,135.93 L135.80,135.19 L135.90,134.23 L135.99,133.14 L136.09,132.00 L136.18,130.88 L136.28,129.84 L136.37,128.95 L136.47,128.22 L136.56,127.69 L136.65,127.34 L136.75,127.17 L136.84,127.16 L136.94,127.27 L137.03,127.49 L137.13,127.79 L137.22,128.15 L137.32,128.56 L137.41,129.02 L137.51,129.51 L137.60,130.03 L137.69,130.59 L137.79,131.16 L137.88,131.74 L137.98,132.32 L138.07,132.86 L138.17,133.36 L138.26,133.78 L138.36,134.12 L138.45,134.37 L138.55,134.52 L138.64,134.58 L138.74,134.55 L138.83,134.45 L138.92,134.30 L139.02,134.10 L139.11,133.87 L139.21,133.60 L139.30,133.29 L139.40,132.91 L139.49,132.46 L139.59,131.91 L139.68,131.24 L139.78,130.45 L139.87,129.53 L139.97,128.51 L140.06,127.41 L140.15,126.28 L140.25,125.19 L140.34,124.20 L140.44,123.38 L140.53,122.79 L140.63,122.50 L140.72,122.52 L140.82,122.89 L140.91,123.58 L141.01,124.55 L141.10,125.76 L141.19,127.13 L141.29,128.57 L141.38,130.00 L141.48,131.32 L141.57,132.48 L141.67,133.42 L141.76,134.09 L141.86,134.49 L141.95,134.62 L142.05,134.49 L142.14,134.15 L142.24,133.63 L142.33,132.98 L142.42,132.24 L142.52,131.44 L142.61,130.62 L142.71,129.79 L142.80,128.97 L142.90,128.16 L142.99,127.37 L143.09,126.61 L143.18,125.89 L143.28,125.21 L143.37,124.58 L143.47,124.03 L143.56,123.57 L143.65,123.21 L143.75,122.98 L143.84,122.88 L143.94,122.91 L144.03,123.07 L144.13,123.33 L144.22,123.68 L144.32,124.09 L144.41,124.53 L144.51,124.96 L144.60,125.36 L144.70,125.71 L144.79,126.00 L144.88,126.21 L144.98,126.35 L145.07,126.43 L145.17,126.46 L145.26,126.45 L145.36,126.42 L145.45,126.39 L145.55,126.36 L145.64,126.33 L145.74,126.31 L145.83,126.29 L145.93,126.26 L146.02,126.19 L146.11,126.07 L146.21,125.89 L146.30,125.62 L146.40,125.27 L146.49,124.82 L146.59,124.28 L146.68,123.65 L146.78,122.95 L146.87,122.20 L146.97,121.44 L147.06,120.68 L147.15,119.97 L147.25,119.35 L147.34,118.84 L147.44,118.48 L147.53,118.30 L147.63,118.30 L147.72,118.50 L147.82,118.89 L147.91,119.46 L148.01,120.17 L148.10,120.99 L148.20,121.86 L148.29,122.74 L148.38,123.56 L148.48,124.29 L148.57,124.88 L148.67,125.29 L148.76,125.52 L148.86,125.54 L148.95,125.38 L149.05,125.06 L149.14,124.61 L149.24,124.07 L149.33,123.49 L149.43,122.90 L149.52,122.33 L149.61,121.81 L149.71,121.35 L149.80,120.95 L149.90,120.59 L149.99,120.26 L150.09,119.95 L150.18,119.63 L150.28,119.30 L150.37,118.94 L150.47,118.58 L150.56,118.22 L150.66,117.88 L150.75,117.61 L150.84,117.42 L150.94,117.35 L151.03,117.40 L151.13,117.59 L151.22,117.91 L151.32,118.33 L151.41,118.82 L151.51,119.34 L151.60,119.84 L151.70,120.28 L151.79,120.63 L151.88,120.87 L151.98,120.98 L152.07,120.99 L152.17,120.93 L152.26,120.82 L152.36,120.72 L152.45,120.67 L152.55,120.71 L152.64,120.87 L152.74,121.16 L152.83,121.55 L152.93,122.02 L153.02,122.51 L153.11,122.96 L153.21,123.30 L153.30,123.47 L153.40,123.42 L153.49,123.12 L153.59,122.56 L153.68,121.75 L153.78,120.76 L153.87,119.64 L153.97,118.48 L154.06,117.38 L154.16,116.42 L154.25,115.69 L154.34,115.24 L154.44,115.12 L154.53,115.32 L154.63,115.84 L154.72,116.64 L154.82,117.64 L154.91,118.77 L155.01,119.96 L155.10,121.13 L155.20,122.21 L155.29,123.16 L155.38,123.93 L155.48,124.51 L155.57,124.90 L155.67,125.11 L155.76,125.17 L155.86,125.10 L155.95,124.92 L156.05,124.67 L156.14,124.35 L156.24,123.98 L156.33,123.57 L156.43,123.11 L156.52,122.63 L156.61,122.11 L156.71,121.58 L156.80,121.03 L156.90,120.49 L156.99,119.98 L157.09,119.52 L157.18,119.13 L157.28,118.82 L157.37,118.60 L157.47,118.48 L157.56,118.46 L157.66,118.51 L157.75,118.63 L157.84,118.81 L157.94,119.03 L158.03,119.28 L158.13,119.57 L158.22,119.91 L158.32,120.30 L158.41,120.77 L158.51,121.34 L158.60,122.02 L158.70,122.82 L158.79,123.75 L158.89,124.79 L158.98,125.89 L159.07,127.03 L159.17,128.12 L159.26,129.12 L159.36,129.94 L159.45,130.53 L159.55,130.82 L159.64,130.79 L159.74,130.43 L159.83,129.73 L159.93,128.75 L160.02,127.53 L160.11,126.15 L160.21,124.70 L160.30,123.27 L160.40,121.93 L160.49,120.75 L160.59,119.80 L160.68,119.11 L160.78,118.69 L160.87,118.55 L160.97,118.65 L161.06,118.97 L161.16,119.46 L161.25,120.08 L161.34,120.80 L161.44,121.57 L161.53,122.36 L161.63,123.16 L161.72,123.96 L161.82,124.73 L161.91,125.48 L162.01,126.21 L162.10,126.90 L162.20,127.54 L162.29,128.13 L162.39,128.65 L162.48,129.07 L162.57,129.38 L162.67,129.58 L162.76,129.64 L162.86,129.56 L162.95,129.36 L163.05,129.06 L163.14,128.66 L163.24,128.21 L163.33,127.73 L163.43,127.25 L163.52,126.80 L163.62,126.40 L163.71,126.07 L163.80,125.81 L163.90,125.63 L163.99,125.50 L164.09,125.43 L164.18,125.39 L164.28,125.37 L164.37,125.36 L164.47,125.34 L164.56,125.32 L164.66,125.29 L164.75,125.27 L164.84,125.26 L164.94,125.28 L165.03,125.35 L165.13,125.49 L165.22,125.71 L165.32,126.02 L165.41,126.43 L165.51,126.93 L165.60,127.51 L165.70,128.17 L165.79,128.88 L165.89,129.60 L165.98,130.32 L166.07,130.99 L166.17,131.58 L166.26,132.05 L166.36,132.37 L166.45,132.52 L166.55,132.49 L166.64,132.25 L166.74,131.83 L166.83,131.23 L166.93,130.49 L167.02,129.65 L167.12,128.75 L167.21,127.84 L167.30,126.99 L167.40,126.24 L167.49,125.63 L167.59,125.19 L167.68,124.95 L167.78,124.91 L167.87,125.05 L167.97,125.36 L168.06,125.80 L168.16,126.32 L168.25,126.89 L168.35,127.47 L168.44,128.03 L168.53,128.54 L168.63,129.00 L168.72,129.40 L168.82,129.76 L168.91,130.08 L169.01,130.40 L169.10,130.72 L169.20,131.05 L169.29,131.41 L169.39,131.78 L169.48,132.15 L169.57,132.49 L169.67,132.78 L169.76,132.98 L169.86,133.07 L169.95,133.03 L170.05,132.86 L170.14,132.56 L170.24,132.16 L170.33,131.69 L170.43,131.19 L170.52,130.71 L170.62,130.29 L170.71,129.97 L170.80,129.76 L170.90,129.67 L170.99,129.69 L171.09,129.79 L171.18,129.92 L171.28,130.06 L171.37,130.14 L171.47,130.13 L171.56,130.00 L171.66,129.76 L171.75,129.40 L171.85,128.97 L171.94,128.52 L172.03,128.11 L172.13,127.81 L172.22,127.68 L172.32,127.77 L172.41,128.12 L172.51,128.72 L172.60,129.57 L172.70,130.61 L172.79,131.77 L172.89,132.97 L172.98,134.12 L173.08,135.13 L173.17,135.90 L173.26,136.40 L173.36,136.57 L173.45,136.41 L173.55,135.93 L173.64,135.19 L173.74,134.23 L173.83,133.14 L173.93,132.00 L174.02,130.88 L174.12,129.84 L174.21,128.95 L174.31,128.22 L174.40,127.69 L174.49,127.34 L174.59,127.17 L174.68,127.16 L174.78,127.27 L174.87,127.49 L174.97,127.79 L175.06,128.15 L175.16,128.56 L175.25,129.02 L175.35,129.51 L175.44,130.03 L175.53,130.59 L175.63,131.16 L175.72,131.74 L175.82,132.32 L175.91,132.86 L176.01,133.36 L176.10,133.78 L176.20,134.12 L176.29,134.37 L176.39,134.52 L176.48,134.58 L176.58,134.55 L176.67,134.45 L176.76,134.30 L176.86,134.10 L176.95,133.87 L177.05,133.60 L177.14,133.29 L177.24,132.91 L177.33,132.46 L177.43,131.91 L177.52,131.24 L177.62,130.45 L177.71,129.53 L177.81,128.51 L177.90,127.41 L177.99,126.28 L178.09,125.19 L178.18,124.20 L178.28,123.38 L178.37,122.79 L178.47,122.50 L178.56,122.52 L178.66,122.89 L178.75,123.58 L178.85,124.55 L178.94,125.76 L179.03,127.13 L179.13,128.57 L179.22,130.00 L179.32,131.32 L179.41,132.48 L179.51,133.42 L179.60,134.09 L179.70,134.49 L179.79,134.62 L179.89,134.49 L179.98,134.15 L180.08,133.63 L180.17,132.98 L180.26,132.24 L180.36,131.44 L180.45,130.62 L180.55,129.79 L180.64,128.97 L180.74,128.16 L180.83,127.37 L180.93,126.61 L181.02,125.89 L181.12,125.21 L181.21,124.58 L181.31,124.03 L181.40,123.57 L181.49,123.21 L181.59,122.98 L181.68,122.88 L181.78,122.91 L181.87,123.07 L181.97,123.33 L182.06,123.68 L182.16,124.09 L182.25,124.53 L182.35,124.96 L182.44,125.36 L182.54,125.71 L182.63,126.00 L182.72,126.21 L182.82,126.35 L182.91,126.43 L183.01,126.46 L183.10,126.45 L183.20,126.42 L183.29,126.39 L183.39,126.36 L183.48,126.33 L183.58,126.31 L183.67,126.29 L183.76,126.26 L183.86,126.19 L183.95,126.07 L184.05,125.89 L184.14,125.62 L184.24,125.27 L184.33,124.82 L184.43,124.28 L184.52,123.65 L184.62,122.95 L184.71,122.20 L184.81,121.44 L184.90,120.68 L184.99,119.97 L185.09,119.35 L185.18,118.84 L185.28,118.48 L185.37,118.30 L185.47,118.30 L185.56,118.50 L185.66,118.89 L185.75,119.46 L185.85,120.17 L185.94,120.99 L186.04,121.86 L186.13,122.74 L186.22,123.56 L186.32,124.29 L186.41,124.88 L186.51,125.29 L186.60,125.52 L186.70,125.54 L186.79,125.38 L186.89,125.06 L186.98,124.61 L187.08,124.07 L187.17,123.49 L187.27,122.90 L187.36,122.33 L187.45,121.81 L187.55,121.35 L187.64,120.95 L187.74,120.59 L187.83,120.26 L187.93,119.95 L188.02,119.63 L188.12,119.30 L188.21,118.94 L188.31,118.58 L188.40,118.22 L188.49,117.88 L188.59,117.61 L188.68,117.42 L188.78,117.35 L188.87,117.40 L188.97,117.59 L189.06,117.91 L189.16,118.33 L189.25,118.82 L189.35,119.34 L189.44,119.84 L189.54,120.28 L189.63,120.63 L189.72,120.87 L189.82,120.98 L189.91,120.99 L190.01,120.93 L190.10,120.82 L190.20,120.72 L190.29,120.67 L190.39,120.71 L190.48,120.87 L190.58,121.16 L190.67,121.55 L190.77,122.02 L190.86,122.51 L190.95,122.96 L191.05,123.30 L191.14,123.47 L191.24,123.42 L191.33,123.12 L191.43,122.56 L191.52,121.75 L191.62,120.76 L191.71,119.64 L191.81,118.48 L191.90,117.38 L192.00,116.42 L192.09,115.69 L192.18,115.24 L192.28,115.12 L192.37,115.32 L192.47,115.84 L192.56,116.64 L192.66,117.64 L192.75,118.77 L192.85,119.96 L192.94,121.13 L193.04,122.21 L193.13,123.16 L193.22,123.93 L193.32,124.51 L193.41,124.90 L193.51,125.11 L193.60,125.17 L193.70,125.10 L193.79,124.92 L193.89,124.67 L193.98,124.35 L194.08,123.98 L194.17,123.57 L194.27,123.11 L194.36,122.63 L194.45,122.11 L194.55,121.58 L194.64,121.03 L194.74,120.49 L194.83,119.98 L194.93,119.52 L195.02,119.13 L195.12,118.82 L195.21,118.60 L195.31,118.48 L195.40,118.46 L195.50,118.51 L195.59,118.63 L195.68,118.81 L195.78,119.03 L195.87,119.28 L195.97,119.57 L196.06,119.91 L196.16,120.30 L196.25,120.77 L196.35,121.34 L196.44,122.02 L196.54,122.82 L196.63,123.75 L196.73,124.79 L196.82,125.89 L196.91,127.03 L197.01,128.12 L197.10,129.12 L197.20,129.94 L197.29,130.53 L197.39,130.82 L197.48,130.79 L197.58,130.43 L197.67,129.73 L197.77,128.75 L197.86,127.53 L197.95,126.15 L198.05,124.70 L198.14,123.27 L198.24,121.93 L198.33,120.75 L198.43,119.80 L198.52,119.11 L198.62,118.69 L198.71,118.55 L198.81,118.65 L198.90,118.97 L199.00,119.46 L199.09,120.08 L199.18,120.80 L199.28,121.57 L199.37,122.36 L199.47,123.16 L199.56,123.96 L199.66,124.73 L199.75,125.48 L199.85,126.21 L199.94,126.90 L200.04,127.54 L200.13,128.13 L200.23,128.65 L200.32,129.07 L200.41,129.38 L200.51,129.58 L200.60,129.64 L200.70,129.56 L200.79,129.36 L200.89,129.06 L200.98,128.66 L201.08,128.21 L201.17,127.73 L201.27,127.25 L201.36,126.80 L201.46,126.40 L201.55,126.07 L201.64,125.81 L201.74,125.63 L201.83,125.50 L201.93,125.43 L202.02,125.39 L202.12,125.37 L202.21,125.36 L202.31,125.34 L202.40,125.32 L202.50,125.29 L202.59,125.27 L202.69,125.26 L202.78,125.28 L202.87,125.35 L202.97,125.49 L203.06,125.71 L203.16,126.02 L203.25,126.43 L203.35,126.93 L203.44,127.51 L203.54,128.17 L203.63,128.88 L203.73,129.60 L203.82,130.32 L203.91,130.99 L204.01,131.58 L204.10,132.05 L204.20,132.37 L204.29,132.52 L204.39,132.49 L204.48,132.25 L204.58,131.83 L204.67,131.23 L204.77,130.49 L204.86,129.65 L204.96,128.75 L205.05,127.84 L205.14,126.99 L205.24,126.24 L205.33,125.63 L205.43,125.19 L205.52,124.95 L205.62,124.91 L205.71,125.05 L205.81,125.36 L205.90,125.80 L206.00,126.32 L206.09,126.89 L206.19,127.47 L206.28,128.03 L206.37,128.54 L206.47,129.00 L206.56,129.40 L206.66,129.76 L206.75,130.08 L206.85,130.40 L206.94,130.72 L207.04,131.05 L207.13,131.41 L207.23,131.78 L207.32,132.15 L207.41,132.49 L207.51,132.78 L207.60,132.98 L207.70,133.07 L207.79,133.03 L207.89,132.86 L207.98,132.56 L208.08,132.16 L208.17,131.69 L208.27,131.19 L208.36,130.71 L208.46,130.29 L208.55,129.97 L208.64,129.76 L208.74,129.67 L208.83,129.69 L208.93,129.79 L209.02,129.92 L209.12,130.06 L209.21,130.14 L209.31,130.13 L209.40,130.00 L209.50,129.76 L209.59,129.40 L209.69,128.97 L209.78,128.52 L209.87,128.11 L209.97,127.81 L210.06,127.68 L210.16,127.77 L210.25,128.12 L210.35,128.72 L210.44,129.57 L210.54,130.61 L210.63,131.77 L210.73,132.97 L210.82,134.12 L210.92,135.13 L211.01,135.90 L211.10,136.40 L211.20,136.57 L211.29,136.41 L211.39,135.93 L211.48,135.19 L211.58,134.23 L211.67,133.14 L211.77,132.00 L211.86,130.88 L211.96,129.84 L212.05,128.95 L212.14,128.22 L212.24,127.69 L212.33,127.34 L212.43,127.17 L212.52,127.16 L212.62,127.27 L212.71,127.49 L212.81,127.79 L212.90,128.15 L213.00,128.56 L213.09,129.02 L213.19,129.51 L213.28,130.03 L213.37,130.59 L213.47,131.16 L213.56,131.74 L213.66,132.32 L213.75,132.86 L213.85,133.36 L213.94,133.78 L214.04,134.12 L214.13,134.37 L214.23,134.52 L214.32,134.58 L214.42,134.55 L214.51,134.45 L214.60,134.30 L214.70,134.10 L214.79,133.87 L214.89,133.60 L214.98,133.29 L215.08,132.91 L215.17,132.46 L215.27,131.91 L215.36,131.24 L215.46,130.45 L215.55,129.53 L215.65,128.51 L215.74,127.41 L215.83,126.28 L215.93,125.19 L216.02,124.20 L216.12,123.38 L216.21,122.79 L216.31,122.50 L216.40,122.52 L216.50,122.89 L216.59,123.58 L216.69,124.55 L216.78,125.76 L216.87,127.13 L216.97,128.57 L217.06,130.00 L217.16,131.32 L217.25,132.48 L217.35,133.42 L217.44,134.09 L217.54,134.49 L217.63,134.62 L217.73,134.49 L217.82,134.15 L217.92,133.63 L218.01,132.98 L218.10,132.24 L218.20,131.44 L218.29,130.62 L218.39,129.79 L218.48,128.97 L218.58,128.16 L218.67,127.37 L218.77,126.61 L218.86,125.89 L218.96,125.21 L219.05,124.58 L219.15,124.03 L219.24,123.57 L219.33,123.21 L219.43,122.98 L219.52,122.88 L219.62,122.91 L219.71,123.07 L219.81,123.33 L219.90,123.68 L220.00,124.09 L220.09,124.53 L220.19,124.96 L220.28,125.36 L220.38,125.71 L220.47,126.00 L220.56,126.21 L220.66,126.35 L220.75,126.43 L220.85,126.46 L220.94,126.45 L221.04,126.42 L221.13,126.39 L221.23,126.36 L221.32,126.33 L221.42,126.31 L221.51,126.29 L221.60,126.26 L221.70,126.19 L221.79,126.07 L221.89,125.89 L221.98,125.62 L222.08,125.27 L222.17,124.82 L222.27,124.28 L222.36,123.65 L222.46,122.95 L222.55,122.20 L222.65,121.44 L222.74,120.68 L222.83,119.97 L222.93,119.35 L223.02,118.84 L223.12,118.48 L223.21,118.30 L223.31,118.30 L223.40,118.50 L223.50,118.89 L223.59,119.46 L223.69,120.17 L223.78,120.99 L223.88,121.86 L223.97,122.74 L224.06,123.56 L224.16,124.29 L224.25,124.88 L224.35,125.29 L224.44,125.52 L224.54,125.54 L224.63,125.38 L224.73,125.06 L224.82,124.61 L224.92,124.07 L225.01,123.49 L225.11,122.90 L225.20,122.33 L225.29,121.81 L225.39,121.35 L225.48,120.95 L225.58,120.59 L225.67,120.26 L225.77,119.95 L225.86,119.63 L225.96,119.30 L226.05,118.94 L226.15,118.58 L226.24,118.22 L226.33,117.88 L226.43,117.61 L226.52,117.42 L226.62,117.35 L226.71,117.40 L226.81,117.59 L226.90,117.91 L227.00,118.33 L227.09,118.82 L227.19,119.34 L227.28,119.84 L227.38,120.28 L227.47,120.63 L227.56,120.87 L227.66,120.98 L227.75,120.99 L227.85,120.93 L227.94,120.82 L228.04,120.72 L228.13,120.67 L228.23,120.71 L228.32,120.87 L228.42,121.16 L228.51,121.55 L228.61,122.02 L228.70,122.51" stroke="#008000" stroke-width="1.60"/>
</g>
<rect x="39.50" y="53.50" width="189.20" height="148.80" fill="none" stroke="#222" stroke-width="1.00"/>
<path d="M77.34,202.30 v-2.00 M77.34,53.50 v2.00" stroke="#222" stroke-width="0.8"/>
<path d="M115.18,202.30 v-2.00 M115.18,53.50 v2.00" stroke="#222" stroke-width="0.8"/>
<path d="M153.02,202.30 v-2.00 M153.02,53.50 v2.00" stroke="#222" stroke-width="0.8"/>
<path d="M190.86,202.30 v-2.00 M190.86,53.50 v2.00" stroke="#222" stroke-width="0.8"/>
<path d="M39.50,78.30 h2.00 M228.70,78.30 h-2.00" stroke="#222" stroke-width="0.8"/>
<path d="M39.50,103.10 h2.00 M228.70,103.10 h-2.00" stroke="#222" stroke-width="0.8"/>
<path d="M39.50,127.90 h2.00 M228.70,127.90 h-2.00" stroke="#222" stroke-width="0.8"/>
<path d="M39.50,152.70 h2.00 M228.70,152.70 h-2.00" stroke="#222" stroke-width="0.8"/>
<path d="M39.50,177.50 h2.00 M228.70,177.50 h-2.00" stroke="#222" stroke-width="0.8"/>
<text x="33.80" y="57.20" font-size="11.10" text-anchor="end" font-family="Liberation Serif, serif" fill="#000" stroke="#000" stroke-width="0.22" >15</text>
<text x="33.80" y="82.00" font-size="11.10" text-anchor="end" font-family="Liberation Serif, serif" fill="#000" stroke="#000" stroke-width="0.22" >10</text>
<text x="31.60" y="106.80" font-size="11.10" text-anchor="end" font-family="Liberation Serif, serif" fill="#000" stroke="#000" stroke-width="0.22" >5</text>
<text x="31.60" y="131.60" font-size="11.10" text-anchor="end" font-family="Liberation Serif, serif" fill="#000" stroke="#000" stroke-width="0.22" >0</text>
<text x="31.60" y="156.40" font-size="11.10" text-anchor="end" font-family="Liberation Serif, serif" fill="#000" stroke="#000" stroke-width="0.22" >5</text>
<text x="33.80" y="181.20" font-size="11.10" text-anchor="end" font-family="Liberation Serif, serif" fill="#000" stroke="#000" stroke-width="0.22" >10</text>
<text x="34.90" y="206.00" font-size="11.10" text-anchor="end" font-family="Liberation Serif, serif" fill="#000" stroke="#000" stroke-width="0.22" >-15</text>
<text x="39.50" y="215.50" font-size="11.10" text-anchor="middle" font-family="Liberation Serif, serif" fill="#000" stroke="#000" stroke-width="0.22" >0</text>
<text x="77.24" y="215.50" font-size="11.10" text-anchor="middle" font-family="Liberation Serif, serif" fill="#000" stroke="#000" stroke-width="0.22" >0.02</text>
<text x="114.98" y="215.50" font-size="11.10" text-anchor="middle" font-family="Liberation Serif, serif" fill="#000" stroke="#000" stroke-width="0.22" >0.04</text>
<text x="152.72" y="215.50" font-size="11.10" text-anchor="middle" font-family="Liberation Serif, serif" fill="#000" stroke="#000" stroke-width="0.22" >0.06</text>
<text x="190.46" y="215.50" font-size="11.10" text-anchor="middle" font-family="Liberation Serif, serif" fill="#000" stroke="#000" stroke-width="0.22" >0.08</text>
<text x="228.20" y="215.50" font-size="11.10" text-anchor="middle" font-family="Liberation Serif, serif" fill="#000" stroke="#000" stroke-width="0.22" >0.1</text>
<text x="134.30" y="232.70" font-size="11.10" text-anchor="middle" font-family="Liberation Serif, serif" fill="#000" stroke="#000" stroke-width="0.22" >time [s]</text>
<text x="134.00" y="252.60" font-size="11.00" text-anchor="middle" font-family="Liberation Serif, serif" fill="#000" stroke="#000" stroke-width="0.05" font-weight="bold">(a)</text>
<text transform="translate(14.2,127.3) rotate(-90)" font-size="11.10" text-anchor="middle" font-family="Liberation Serif, serif" fill="#000" stroke="#000" stroke-width="0.22">current [A]</text>
<rect x="67.00" y="6.75" width="133.75" height="36.25" fill="none" stroke="#222" stroke-width="1.00"/>
<path d="M72,14.50 H96.25" stroke="#0000ff" stroke-width="1.60"/>
<text x="98.00" y="18.00" font-size="11.25" text-anchor="start" font-family="Liberation Serif, serif" fill="#000" stroke="#000" stroke-width="0.22" >load current reference</text>
<path d="M72,25.50 H96.25" stroke="#ff0000" stroke-width="1.60"/>
<text x="98.00" y="29.00" font-size="11.25" text-anchor="start" font-family="Liberation Serif, serif" fill="#000" stroke="#000" stroke-width="0.22" >load current</text>
<path d="M72,37.00 H96.25" stroke="#008000" stroke-width="1.60"/>
<text x="98.00" y="40.00" font-size="11.25" text-anchor="start" font-family="Liberation Serif, serif" fill="#000" stroke="#000" stroke-width="0.22" >load current error</text>
<rect x="297.00" y="53.50" width="193.80" height="45.60" fill="#e6e6e6"/>
<rect x="297.00" y="159.90" width="193.80" height="45.60" fill="#e6e6e6"/>
<g clip-path="url(#cb)" fill="none" stroke-linejoin="round">
<path d="M297.00,68.45 L297.10,68.65 L297.19,68.94 L297.29,69.31 L297.39,69.75 L297.48,70.23 L297.58,70.75 L297.68,71.29 L297.78,71.87 L297.87,72.54 L297.97,73.29 L298.07,74.14 L298.16,75.08 L298.26,76.12 L298.36,77.27 L298.45,78.89 L298.55,81.11 L298.65,83.66 L298.74,86.21 L298.84,88.47 L298.94,90.14 L299.03,91.35 L299.13,92.44 L299.23,93.42 L299.33,94.32 L299.42,95.14 L299.52,95.91 L299.62,96.64 L299.71,97.35 L299.81,98.05 L299.91,98.75 L300.00,99.46 L300.10,100.16 L300.20,100.86 L300.29,101.55 L300.39,102.23 L300.49,102.91 L300.59,103.36 L300.68,103.53 L300.78,103.69 L300.88,103.85 L300.97,103.99 L301.07,104.13 L301.17,104.25 L301.26,104.36 L301.36,104.91 L301.46,105.98 L301.55,107.04 L301.65,108.09 L301.75,109.12 L301.85,110.13 L301.94,111.14 L302.04,112.13 L302.14,112.88 L302.23,113.36 L302.33,113.83 L302.43,114.29 L302.52,114.74 L302.62,115.18 L302.72,115.61 L302.81,116.04 L302.91,116.47 L303.01,116.90 L303.10,117.33 L303.20,117.77 L303.30,118.21 L303.40,118.65 L303.49,119.11 L303.59,119.56 L303.69,120.03 L303.78,120.50 L303.88,120.98 L303.98,121.47 L304.07,121.91 L304.17,121.91 L304.27,121.91 L304.36,121.92 L304.46,121.92 L304.56,121.91 L304.66,121.91 L304.75,121.89 L304.85,121.96 L304.95,122.91 L305.04,123.86 L305.14,124.79 L305.24,125.70 L305.33,126.60 L305.43,127.48 L305.53,128.34 L305.62,129.13 L305.72,129.46 L305.82,129.77 L305.91,130.07 L306.01,130.37 L306.11,130.67 L306.21,130.97 L306.30,131.28 L306.40,131.60 L306.50,131.93 L306.59,132.26 L306.69,132.59 L306.79,132.94 L306.88,133.29 L306.98,133.66 L307.08,134.04 L307.17,134.43 L307.27,134.84 L307.37,135.25 L307.47,135.68 L307.56,136.11 L307.66,136.20 L307.76,136.16 L307.85,136.13 L307.95,136.10 L308.05,136.07 L308.14,136.04 L308.24,136.01 L308.34,135.98 L308.43,136.67 L308.53,137.61 L308.63,138.55 L308.72,139.48 L308.82,140.41 L308.92,141.32 L309.02,142.22 L309.11,143.12 L309.21,143.65 L309.31,144.03 L309.40,144.41 L309.50,144.79 L309.60,145.16 L309.69,145.53 L309.79,145.90 L309.89,146.27 L309.98,146.65 L310.08,147.03 L310.18,147.41 L310.28,147.81 L310.37,148.21 L310.47,148.63 L310.57,149.05 L310.66,149.49 L310.76,149.95 L310.86,150.41 L310.95,150.89 L311.05,151.38 L311.15,151.70 L311.24,151.71 L311.34,151.74 L311.44,151.77 L311.54,151.80 L311.63,151.84 L311.73,151.88 L311.83,151.93 L311.92,152.33 L312.02,153.35 L312.12,154.37 L312.21,155.39 L312.31,156.40 L312.41,157.41 L312.50,158.41 L312.60,159.41 L312.70,160.22 L312.79,160.70 L312.89,161.17 L312.99,161.63 L313.09,162.08 L313.18,162.53 L313.28,163.00 L313.38,163.49 L313.47,164.00 L313.57,164.54 L313.67,165.12 L313.76,165.74 L313.86,166.42 L313.96,167.16 L314.05,168.02 L314.15,169.04 L314.25,170.20 L314.35,171.46 L314.44,172.80 L314.54,174.20 L314.64,175.62 L314.73,177.04 L314.83,178.43 L314.93,179.76 L315.02,181.01 L315.12,182.14 L315.22,183.21 L315.31,184.28 L315.41,185.32 L315.51,186.29 L315.60,187.17 L315.70,187.93 L315.80,188.53 L315.90,189.02 L315.99,189.48 L316.09,189.87 L316.19,190.19 L316.28,190.43 L316.38,190.55 L316.48,190.35 L316.57,190.06 L316.67,189.69 L316.77,189.25 L316.86,188.77 L316.96,188.25 L317.06,187.71 L317.16,187.13 L317.25,186.46 L317.35,185.71 L317.45,184.86 L317.54,183.92 L317.64,182.88 L317.74,181.73 L317.83,180.11 L317.93,177.89 L318.03,175.34 L318.12,172.79 L318.22,170.53 L318.32,168.86 L318.41,167.65 L318.51,166.56 L318.61,165.58 L318.71,164.68 L318.80,163.86 L318.90,163.09 L319.00,162.36 L319.09,164.80 L319.19,163.60 L319.29,162.40 L319.38,161.20 L319.48,160.00 L319.58,158.81 L319.67,157.63 L319.77,156.77 L319.87,156.09 L319.97,155.42 L320.06,154.75 L320.16,154.10 L320.26,153.45 L320.35,152.81 L320.45,152.18 L320.55,151.56 L320.64,150.95 L320.74,150.36 L320.84,149.78 L320.93,149.22 L321.03,148.67 L321.13,148.13 L321.23,147.61 L321.32,147.10 L321.42,146.60 L321.52,146.12 L321.61,145.64 L321.71,145.31 L321.81,145.34 L321.90,145.39 L322.00,145.44 L322.10,145.50 L322.19,145.56 L322.29,145.63 L322.39,145.69 L322.48,145.48 L322.58,144.55 L322.68,143.62 L322.78,142.68 L322.87,141.74 L322.97,140.78 L323.07,139.82 L323.16,138.86 L323.26,138.02 L323.36,137.53 L323.45,137.04 L323.55,136.55 L323.65,136.05 L323.74,135.56 L323.84,135.06 L323.94,134.57 L324.04,134.08 L324.13,133.60 L324.23,133.13 L324.33,132.67 L324.42,132.23 L324.52,131.79 L324.62,131.37 L324.71,130.96 L324.81,130.57 L324.91,130.21 L325.00,129.87 L325.10,129.54 L325.20,129.23 L325.29,129.37 L325.39,129.57 L325.49,129.77 L325.59,129.96 L325.68,130.14 L325.78,130.32 L325.88,130.49 L325.97,130.65 L326.07,129.91 L326.17,129.07 L326.26,128.22 L326.36,127.36 L326.46,126.49 L326.55,125.60 L326.65,124.70 L326.75,123.79 L326.85,123.32 L326.94,122.89 L327.04,122.44 L327.14,121.99 L327.23,121.53 L327.33,121.06 L327.43,120.60 L327.52,120.13 L327.62,119.66 L327.72,119.20 L327.81,118.74 L327.91,118.29 L328.01,117.84 L328.10,117.41 L328.20,116.98 L328.30,116.56 L328.40,116.15 L328.49,115.75 L328.59,115.35 L328.69,114.97 L328.78,114.86 L328.88,114.98 L328.98,115.10 L329.07,115.22 L329.17,115.35 L329.27,115.47 L329.36,115.59 L329.46,115.70 L329.56,115.27 L329.66,114.38 L329.75,113.48 L329.85,112.57 L329.95,111.65 L330.04,110.72 L330.14,109.77 L330.24,108.81 L330.33,108.11 L330.43,107.62 L330.53,107.12 L330.62,106.61 L330.72,106.09 L330.82,105.57 L330.92,105.04 L331.01,104.51 L331.11,103.97 L331.21,103.44 L331.30,102.90 L331.40,102.37 L331.50,101.84 L331.59,101.32 L331.69,100.80 L331.79,100.29 L331.88,99.78 L331.98,99.28 L332.08,98.78 L332.17,98.30 L332.27,97.92 L332.37,97.37 L332.47,96.92 L332.56,96.47 L332.66,96.00 L332.76,95.51 L332.85,95.00 L332.95,94.46 L333.05,93.88 L333.14,93.26 L333.24,92.58 L333.34,91.84 L333.43,90.98 L333.53,89.96 L333.63,88.80 L333.73,87.54 L333.82,86.20 L333.92,84.80 L334.02,83.38 L334.11,81.96 L334.21,80.57 L334.31,79.24 L334.40,77.99 L334.50,76.86 L334.60,75.79 L334.69,74.72 L334.79,73.68 L334.89,72.71 L334.98,71.83 L335.08,71.07 L335.18,70.47 L335.28,69.98 L335.37,69.52 L335.47,69.13 L335.57,68.81 L335.66,68.57 L335.76,68.45 L335.86,68.65 L335.95,68.94 L336.05,69.31 L336.15,69.75 L336.24,70.23 L336.34,70.75 L336.44,71.29 L336.54,71.87 L336.63,72.54 L336.73,73.29 L336.83,74.14 L336.92,75.08 L337.02,76.12 L337.12,77.27 L337.21,78.89 L337.31,81.11 L337.41,83.66 L337.50,86.21 L337.60,88.47 L337.70,90.14 L337.79,91.35 L337.89,92.44 L337.99,93.42 L338.09,94.32 L338.18,95.14 L338.28,95.91 L338.38,96.64 L338.47,97.35 L338.57,98.05 L338.67,98.75 L338.76,99.46 L338.86,100.16 L338.96,100.86 L339.05,101.55 L339.15,102.23 L339.25,102.91 L339.35,103.36 L339.44,103.53 L339.54,103.69 L339.64,103.85 L339.73,103.99 L339.83,104.13 L339.93,104.25 L340.02,104.36 L340.12,104.91 L340.22,105.98 L340.31,107.04 L340.41,108.09 L340.51,109.12 L340.61,110.13 L340.70,111.14 L340.80,112.13 L340.90,112.88 L340.99,113.36 L341.09,113.83 L341.19,114.29 L341.28,114.74 L341.38,115.18 L341.48,115.61 L341.57,116.04 L341.67,116.47 L341.77,116.90 L341.86,117.33 L341.96,117.77 L342.06,118.21 L342.16,118.65 L342.25,119.11 L342.35,119.56 L342.45,120.03 L342.54,120.50 L342.64,120.98 L342.74,121.47 L342.83,121.91 L342.93,121.91 L343.03,121.91 L343.12,121.92 L343.22,121.92 L343.32,121.91 L343.42,121.91 L343.51,121.89 L343.61,121.96 L343.71,122.91 L343.80,123.86 L343.90,124.79 L344.00,125.70 L344.09,126.60 L344.19,127.48 L344.29,128.34 L344.38,129.13 L344.48,129.46 L344.58,129.77 L344.67,130.07 L344.77,130.37 L344.87,130.67 L344.97,130.97 L345.06,131.28 L345.16,131.60 L345.26,131.93 L345.35,132.26 L345.45,132.59 L345.55,132.94 L345.64,133.29 L345.74,133.66 L345.84,134.04 L345.93,134.43 L346.03,134.84 L346.13,135.25 L346.23,135.68 L346.32,136.11 L346.42,136.20 L346.52,136.16 L346.61,136.13 L346.71,136.10 L346.81,136.07 L346.90,136.04 L347.00,136.01 L347.10,135.98 L347.19,136.67 L347.29,137.61 L347.39,138.55 L347.48,139.48 L347.58,140.41 L347.68,141.32 L347.78,142.22 L347.87,143.12 L347.97,143.65 L348.07,144.03 L348.16,144.41 L348.26,144.79 L348.36,145.16 L348.45,145.53 L348.55,145.90 L348.65,146.27 L348.74,146.65 L348.84,147.03 L348.94,147.41 L349.04,147.81 L349.13,148.21 L349.23,148.63 L349.33,149.05 L349.42,149.49 L349.52,149.95 L349.62,150.41 L349.71,150.89 L349.81,151.38 L349.91,151.70 L350.00,151.71 L350.10,151.74 L350.20,151.77 L350.30,151.80 L350.39,151.84 L350.49,151.88 L350.59,151.93 L350.68,152.33 L350.78,153.35 L350.88,154.37 L350.97,155.39 L351.07,156.40 L351.17,157.41 L351.26,158.41 L351.36,159.41 L351.46,160.22 L351.55,160.70 L351.65,161.17 L351.75,161.63 L351.85,162.08 L351.94,162.53 L352.04,163.00 L352.14,163.49 L352.23,164.00 L352.33,164.54 L352.43,165.12 L352.52,165.74 L352.62,166.42 L352.72,167.16 L352.81,168.02 L352.91,169.04 L353.01,170.20 L353.11,171.46 L353.20,172.80 L353.30,174.20 L353.40,175.62 L353.49,177.04 L353.59,178.43 L353.69,179.76 L353.78,181.01 L353.88,182.14 L353.98,183.21 L354.07,184.28 L354.17,185.32 L354.27,186.29 L354.36,187.17 L354.46,187.93 L354.56,188.53 L354.66,189.02 L354.75,189.48 L354.85,189.87 L354.95,190.19 L355.04,190.43 L355.14,190.55 L355.24,190.35 L355.33,190.06 L355.43,189.69 L355.53,189.25 L355.62,188.77 L355.72,188.25 L355.82,187.71 L355.92,187.13 L356.01,186.46 L356.11,185.71 L356.21,184.86 L356.30,183.92 L356.40,182.88 L356.50,181.73 L356.59,180.11 L356.69,177.89 L356.79,175.34 L356.88,172.79 L356.98,170.53 L357.08,168.86 L357.17,167.65 L357.27,166.56 L357.37,165.58 L357.47,164.68 L357.56,163.86 L357.66,163.09 L357.76,162.36 L357.85,164.80 L357.95,163.60 L358.05,162.40 L358.14,161.20 L358.24,160.00 L358.34,158.81 L358.43,157.63 L358.53,156.77 L358.63,156.09 L358.73,155.42 L358.82,154.75 L358.92,154.10 L359.02,153.45 L359.11,152.81 L359.21,152.18 L359.31,151.56 L359.40,150.95 L359.50,150.36 L359.60,149.78 L359.69,149.22 L359.79,148.67 L359.89,148.13 L359.99,147.61 L360.08,147.10 L360.18,146.60 L360.28,146.12 L360.37,145.64 L360.47,145.31 L360.57,145.34 L360.66,145.39 L360.76,145.44 L360.86,145.50 L360.95,145.56 L361.05,145.63 L361.15,145.69 L361.24,145.48 L361.34,144.55 L361.44,143.62 L361.54,142.68 L361.63,141.74 L361.73,140.78 L361.83,139.82 L361.92,138.86 L362.02,138.02 L362.12,137.53 L362.21,137.04 L362.31,136.55 L362.41,136.05 L362.50,135.56 L362.60,135.06 L362.70,134.57 L362.80,134.08 L362.89,133.60 L362.99,133.13 L363.09,132.67 L363.18,132.23 L363.28,131.79 L363.38,131.37 L363.47,130.96 L363.57,130.57 L363.67,130.21 L363.76,129.87 L363.86,129.54 L363.96,129.23 L364.05,129.37 L364.15,129.57 L364.25,129.77 L364.35,129.96 L364.44,130.14 L364.54,130.32 L364.64,130.49 L364.73,130.65 L364.83,129.91 L364.93,129.07 L365.02,128.22 L365.12,127.36 L365.22,126.49 L365.31,125.60 L365.41,124.70 L365.51,123.79 L365.61,123.32 L365.70,122.89 L365.80,122.44 L365.90,121.99 L365.99,121.53 L366.09,121.06 L366.19,120.60 L366.28,120.13 L366.38,119.66 L366.48,119.20 L366.57,118.74 L366.67,118.29 L366.77,117.84 L366.86,117.41 L366.96,116.98 L367.06,116.56 L367.16,116.15 L367.25,115.75 L367.35,115.35 L367.45,114.97 L367.54,114.86 L367.64,114.98 L367.74,115.10 L367.83,115.22 L367.93,115.35 L368.03,115.47 L368.12,115.59 L368.22,115.70 L368.32,115.27 L368.42,114.38 L368.51,113.48 L368.61,112.57 L368.71,111.65 L368.80,110.72 L368.90,109.77 L369.00,108.81 L369.09,108.11 L369.19,107.62 L369.29,107.12 L369.38,106.61 L369.48,106.09 L369.58,105.57 L369.68,105.04 L369.77,104.51 L369.87,103.97 L369.97,103.44 L370.06,102.90 L370.16,102.37 L370.26,101.84 L370.35,101.32 L370.45,100.80 L370.55,100.29 L370.64,99.78 L370.74,99.28 L370.84,98.78 L370.93,98.30 L371.03,97.92 L371.13,97.37 L371.23,96.92 L371.32,96.47 L371.42,96.00 L371.52,95.51 L371.61,95.00 L371.71,94.46 L371.81,93.88 L371.90,93.26 L372.00,92.58 L372.10,91.84 L372.19,90.98 L372.29,89.96 L372.39,88.80 L372.49,87.54 L372.58,86.20 L372.68,84.80 L372.78,83.38 L372.87,81.96 L372.97,80.57 L373.07,79.24 L373.16,77.99 L373.26,76.86 L373.36,75.79 L373.45,74.72 L373.55,73.68 L373.65,72.71 L373.74,71.83 L373.84,71.07 L373.94,70.47 L374.04,69.98 L374.13,69.52 L374.23,69.13 L374.33,68.81 L374.42,68.57 L374.52,68.45 L374.62,68.65 L374.71,68.94 L374.81,69.31 L374.91,69.75 L375.00,70.23 L375.10,70.75 L375.20,71.29 L375.30,71.87 L375.39,72.54 L375.49,73.29 L375.59,74.14 L375.68,75.08 L375.78,76.12 L375.88,77.27 L375.97,78.89 L376.07,81.11 L376.17,83.66 L376.26,86.21 L376.36,88.47 L376.46,90.14 L376.55,91.35 L376.65,92.44 L376.75,93.42 L376.85,94.32 L376.94,95.14 L377.04,95.91 L377.14,96.64 L377.23,97.35 L377.33,98.05 L377.43,98.75 L377.52,99.46 L377.62,100.16 L377.72,100.86 L377.81,101.55 L377.91,102.23 L378.01,102.91 L378.11,103.36 L378.20,103.53 L378.30,103.69 L378.40,103.85 L378.49,103.99 L378.59,104.13 L378.69,104.25 L378.78,104.36 L378.88,104.91 L378.98,105.98 L379.07,107.04 L379.17,108.09 L379.27,109.12 L379.37,110.13 L379.46,111.14 L379.56,112.13 L379.66,112.88 L379.75,113.36 L379.85,113.83 L379.95,114.29 L380.04,114.74 L380.14,115.18 L380.24,115.61 L380.33,116.04 L380.43,116.47 L380.53,116.90 L380.62,117.33 L380.72,117.77 L380.82,118.21 L380.92,118.65 L381.01,119.11 L381.11,119.56 L381.21,120.03 L381.30,120.50 L381.40,120.98 L381.50,121.47 L381.59,121.91 L381.69,121.91 L381.79,121.91 L381.88,121.92 L381.98,121.92 L382.08,121.91 L382.18,121.91 L382.27,121.89 L382.37,121.96 L382.47,122.91 L382.56,123.86 L382.66,124.79 L382.76,125.70 L382.85,126.60 L382.95,127.48 L383.05,128.34 L383.14,129.13 L383.24,129.46 L383.34,129.77 L383.43,130.07 L383.53,130.37 L383.63,130.67 L383.73,130.97 L383.82,131.28 L383.92,131.60 L384.02,131.93 L384.11,132.26 L384.21,132.59 L384.31,132.94 L384.40,133.29 L384.50,133.66 L384.60,134.04 L384.69,134.43 L384.79,134.84 L384.89,135.25 L384.99,135.68 L385.08,136.11 L385.18,136.20 L385.28,136.16 L385.37,136.13 L385.47,136.10 L385.57,136.07 L385.66,136.04 L385.76,136.01 L385.86,135.98 L385.95,136.67 L386.05,137.61 L386.15,138.55 L386.24,139.48 L386.34,140.41 L386.44,141.32 L386.54,142.22 L386.63,143.12 L386.73,143.65 L386.83,144.03 L386.92,144.41 L387.02,144.79 L387.12,145.16 L387.21,145.53 L387.31,145.90 L387.41,146.27 L387.50,146.65 L387.60,147.03 L387.70,147.41 L387.80,147.81 L387.89,148.21 L387.99,148.63 L388.09,149.05 L388.18,149.49 L388.28,149.95 L388.38,150.41 L388.47,150.89 L388.57,151.38 L388.67,151.70 L388.76,151.71 L388.86,151.74 L388.96,151.77 L389.06,151.80 L389.15,151.84 L389.25,151.88 L389.35,151.93 L389.44,152.33 L389.54,153.35 L389.64,154.37 L389.73,155.39 L389.83,156.40 L389.93,157.41 L390.02,158.41 L390.12,159.41 L390.22,160.22 L390.31,160.70 L390.41,161.17 L390.51,161.63 L390.61,162.08 L390.70,162.53 L390.80,163.00 L390.90,163.49 L390.99,164.00 L391.09,164.54 L391.19,165.12 L391.28,165.74 L391.38,166.42 L391.48,167.16 L391.57,168.02 L391.67,169.04 L391.77,170.20 L391.87,171.46 L391.96,172.80 L392.06,174.20 L392.16,175.62 L392.25,177.04 L392.35,178.43 L392.45,179.76 L392.54,181.01 L392.64,182.14 L392.74,183.21 L392.83,184.28 L392.93,185.32 L393.03,186.29 L393.12,187.17 L393.22,187.93 L393.32,188.53 L393.42,189.02 L393.51,189.48 L393.61,189.87 L393.71,190.19 L393.80,190.43 L393.90,190.55 L394.00,190.35 L394.09,190.06 L394.19,189.69 L394.29,189.25 L394.38,188.77 L394.48,188.25 L394.58,187.71 L394.68,187.13 L394.77,186.46 L394.87,185.71 L394.97,184.86 L395.06,183.92 L395.16,182.88 L395.26,181.73 L395.35,180.11 L395.45,177.89 L395.55,175.34 L395.64,172.79 L395.74,170.53 L395.84,168.86 L395.93,167.65 L396.03,166.56 L396.13,165.58 L396.23,164.68 L396.32,163.86 L396.42,163.09 L396.52,162.36 L396.61,164.80 L396.71,163.60 L396.81,162.40 L396.90,161.20 L397.00,160.00 L397.10,158.81 L397.19,157.63 L397.29,156.77 L397.39,156.09 L397.49,155.42 L397.58,154.75 L397.68,154.10 L397.78,153.45 L397.87,152.81 L397.97,152.18 L398.07,151.56 L398.16,150.95 L398.26,150.36 L398.36,149.78 L398.45,149.22 L398.55,148.67 L398.65,148.13 L398.75,147.61 L398.84,147.10 L398.94,146.60 L399.04,146.12 L399.13,145.64 L399.23,145.31 L399.33,145.34 L399.42,145.39 L399.52,145.44 L399.62,145.50 L399.71,145.56 L399.81,145.63 L399.91,145.69 L400.00,145.48 L400.10,144.55 L400.20,143.62 L400.30,142.68 L400.39,141.74 L400.49,140.78 L400.59,139.82 L400.68,138.86 L400.78,138.02 L400.88,137.53 L400.97,137.04 L401.07,136.55 L401.17,136.05 L401.26,135.56 L401.36,135.06 L401.46,134.57 L401.56,134.08 L401.65,133.60 L401.75,133.13 L401.85,132.67 L401.94,132.23 L402.04,131.79 L402.14,131.37 L402.23,130.96 L402.33,130.57 L402.43,130.21 L402.52,129.87 L402.62,129.54 L402.72,129.23 L402.81,129.37 L402.91,129.57 L403.01,129.77 L403.11,129.96 L403.20,130.14 L403.30,130.32 L403.40,130.49 L403.49,130.65 L403.59,129.91 L403.69,129.07 L403.78,128.22 L403.88,127.36 L403.98,126.49 L404.07,125.60 L404.17,124.70 L404.27,123.79 L404.37,123.32 L404.46,122.89 L404.56,122.44 L404.66,121.99 L404.75,121.53 L404.85,121.06 L404.95,120.60 L405.04,120.13 L405.14,119.66 L405.24,119.20 L405.33,118.74 L405.43,118.29 L405.53,117.84 L405.62,117.41 L405.72,116.98 L405.82,116.56 L405.92,116.15 L406.01,115.75 L406.11,115.35 L406.21,114.97 L406.30,114.86 L406.40,114.98 L406.50,115.10 L406.59,115.22 L406.69,115.35 L406.79,115.47 L406.88,115.59 L406.98,115.70 L407.08,115.27 L407.18,114.38 L407.27,113.48 L407.37,112.57 L407.47,111.65 L407.56,110.72 L407.66,109.77 L407.76,108.81 L407.85,108.11 L407.95,107.62 L408.05,107.12 L408.14,106.61 L408.24,106.09 L408.34,105.57 L408.44,105.04 L408.53,104.51 L408.63,103.97 L408.73,103.44 L408.82,102.90 L408.92,102.37 L409.02,101.84 L409.11,101.32 L409.21,100.80 L409.31,100.29 L409.40,99.78 L409.50,99.28 L409.60,98.78 L409.69,98.30 L409.79,97.92 L409.89,97.37 L409.99,96.92 L410.08,96.47 L410.18,96.00 L410.28,95.51 L410.37,95.00 L410.47,94.46 L410.57,93.88 L410.66,93.26 L410.76,92.58 L410.86,91.84 L410.95,90.98 L411.05,89.96 L411.15,88.80 L411.25,87.54 L411.34,86.20 L411.44,84.80 L411.54,83.38 L411.63,81.96 L411.73,80.57 L411.83,79.24 L411.92,77.99 L412.02,76.86 L412.12,75.79 L412.21,74.72 L412.31,73.68 L412.41,72.71 L412.50,71.83 L412.60,71.07 L412.70,70.47 L412.80,69.98 L412.89,69.52 L412.99,69.13 L413.09,68.81 L413.18,68.57 L413.28,68.45 L413.38,68.65 L413.47,68.94 L413.57,69.31 L413.67,69.75 L413.76,70.23 L413.86,70.75 L413.96,71.29 L414.06,71.87 L414.15,72.54 L414.25,73.29 L414.35,74.14 L414.44,75.08 L414.54,76.12 L414.64,77.27 L414.73,78.89 L414.83,81.11 L414.93,83.66 L415.02,86.21 L415.12,88.47 L415.22,90.14 L415.31,91.35 L415.41,92.44 L415.51,93.42 L415.61,94.32 L415.70,95.14 L415.80,95.91 L415.90,96.64 L415.99,97.35 L416.09,98.05 L416.19,98.75 L416.28,99.46 L416.38,100.16 L416.48,100.86 L416.57,101.55 L416.67,102.23 L416.77,102.91 L416.87,103.36 L416.96,103.53 L417.06,103.69 L417.16,103.85 L417.25,103.99 L417.35,104.13 L417.45,104.25 L417.54,104.36 L417.64,104.91 L417.74,105.98 L417.83,107.04 L417.93,108.09 L418.03,109.12 L418.12,110.13 L418.22,111.14 L418.32,112.13 L418.42,112.88 L418.51,113.36 L418.61,113.83 L418.71,114.29 L418.80,114.74 L418.90,115.18 L419.00,115.61 L419.09,116.04 L419.19,116.47 L419.29,116.90 L419.38,117.33 L419.48,117.77 L419.58,118.21 L419.68,118.65 L419.77,119.11 L419.87,119.56 L419.97,120.03 L420.06,120.50 L420.16,120.98 L420.26,121.47 L420.35,121.91 L420.45,121.91 L420.55,121.91 L420.64,121.92 L420.74,121.92 L420.84,121.91 L420.94,121.91 L421.03,121.89 L421.13,121.96 L421.23,122.91 L421.32,123.86 L421.42,124.79 L421.52,125.70 L421.61,126.60 L421.71,127.48 L421.81,128.34 L421.90,129.13 L422.00,129.46 L422.10,129.77 L422.19,130.07 L422.29,130.37 L422.39,130.67 L422.49,130.97 L422.58,131.28 L422.68,131.60 L422.78,131.93 L422.87,132.26 L422.97,132.59 L423.07,132.94 L423.16,133.29 L423.26,133.66 L423.36,134.04 L423.45,134.43 L423.55,134.84 L423.65,135.25 L423.75,135.68 L423.84,136.11 L423.94,136.20 L424.04,136.16 L424.13,136.13 L424.23,136.10 L424.33,136.07 L424.42,136.04 L424.52,136.01 L424.62,135.98 L424.71,136.67 L424.81,137.61 L424.91,138.55 L425.00,139.48 L425.10,140.41 L425.20,141.32 L425.30,142.22 L425.39,143.12 L425.49,143.65 L425.59,144.03 L425.68,144.41 L425.78,144.79 L425.88,145.16 L425.97,145.53 L426.07,145.90 L426.17,146.27 L426.26,146.65 L426.36,147.03 L426.46,147.41 L426.56,147.81 L426.65,148.21 L426.75,148.63 L426.85,149.05 L426.94,149.49 L427.04,149.95 L427.14,150.41 L427.23,150.89 L427.33,151.38 L427.43,151.70 L427.52,151.71 L427.62,151.74 L427.72,151.77 L427.81,151.80 L427.91,151.84 L428.01,151.88 L428.11,151.93 L428.20,152.33 L428.30,153.35 L428.40,154.37 L428.49,155.39 L428.59,156.40 L428.69,157.41 L428.78,158.41 L428.88,159.41 L428.98,160.22 L429.07,160.70 L429.17,161.17 L429.27,161.63 L429.37,162.08 L429.46,162.53 L429.56,163.00 L429.66,163.49 L429.75,164.00 L429.85,164.54 L429.95,165.12 L430.04,165.74 L430.14,166.42 L430.24,167.16 L430.33,168.02 L430.43,169.04 L430.53,170.20 L430.63,171.46 L430.72,172.80 L430.82,174.20 L430.92,175.62 L431.01,177.04 L431.11,178.43 L431.21,179.76 L431.30,181.01 L431.40,182.14 L431.50,183.21 L431.59,184.28 L431.69,185.32 L431.79,186.29 L431.88,187.17 L431.98,187.93 L432.08,188.53 L432.18,189.02 L432.27,189.48 L432.37,189.87 L432.47,190.19 L432.56,190.43 L432.66,190.55 L432.76,190.35 L432.85,190.06 L432.95,189.69 L433.05,189.25 L433.14,188.77 L433.24,188.25 L433.34,187.71 L433.44,187.13 L433.53,186.46 L433.63,185.71 L433.73,184.86 L433.82,183.92 L433.92,182.88 L434.02,181.73 L434.11,180.11 L434.21,177.89 L434.31,175.34 L434.40,172.79 L434.50,170.53 L434.60,168.86 L434.69,167.65 L434.79,166.56 L434.89,165.58 L434.99,164.68 L435.08,163.86 L435.18,163.09 L435.28,162.36 L435.37,164.80 L435.47,163.60 L435.57,162.40 L435.66,161.20 L435.76,160.00 L435.86,158.81 L435.95,157.63 L436.05,156.77 L436.15,156.09 L436.25,155.42 L436.34,154.75 L436.44,154.10 L436.54,153.45 L436.63,152.81 L436.73,152.18 L436.83,151.56 L436.92,150.95 L437.02,150.36 L437.12,149.78 L437.21,149.22 L437.31,148.67 L437.41,148.13 L437.50,147.61 L437.60,147.10 L437.70,146.60 L437.80,146.12 L437.89,145.64 L437.99,145.31 L438.09,145.34 L438.18,145.39 L438.28,145.44 L438.38,145.50 L438.47,145.56 L438.57,145.63 L438.67,145.69 L438.76,145.48 L438.86,144.55 L438.96,143.62 L439.06,142.68 L439.15,141.74 L439.25,140.78 L439.35,139.82 L439.44,138.86 L439.54,138.02 L439.64,137.53 L439.73,137.04 L439.83,136.55 L439.93,136.05 L440.02,135.56 L440.12,135.06 L440.22,134.57 L440.32,134.08 L440.41,133.60 L440.51,133.13 L440.61,132.67 L440.70,132.23 L440.80,131.79 L440.90,131.37 L440.99,130.96 L441.09,130.57 L441.19,130.21 L441.28,129.87 L441.38,129.54 L441.48,129.23 L441.57,129.37 L441.67,129.57 L441.77,129.77 L441.87,129.96 L441.96,130.14 L442.06,130.32 L442.16,130.49 L442.25,130.65 L442.35,129.91 L442.45,129.07 L442.54,128.22 L442.64,127.36 L442.74,126.49 L442.83,125.60 L442.93,124.70 L443.03,123.79 L443.13,123.32 L443.22,122.89 L443.32,122.44 L443.42,121.99 L443.51,121.53 L443.61,121.06 L443.71,120.60 L443.80,120.13 L443.90,119.66 L444.00,119.20 L444.09,118.74 L444.19,118.29 L444.29,117.84 L444.38,117.41 L444.48,116.98 L444.58,116.56 L444.68,116.15 L444.77,115.75 L444.87,115.35 L444.97,114.97 L445.06,114.86 L445.16,114.98 L445.26,115.10 L445.35,115.22 L445.45,115.35 L445.55,115.47 L445.64,115.59 L445.74,115.70 L445.84,115.27 L445.94,114.38 L446.03,113.48 L446.13,112.57 L446.23,111.65 L446.32,110.72 L446.42,109.77 L446.52,108.81 L446.61,108.11 L446.71,107.62 L446.81,107.12 L446.90,106.61 L447.00,106.09 L447.10,105.57 L447.19,105.04 L447.29,104.51 L447.39,103.97 L447.49,103.44 L447.58,102.90 L447.68,102.37 L447.78,101.84 L447.87,101.32 L447.97,100.80 L448.07,100.29 L448.16,99.78 L448.26,99.28 L448.36,98.78 L448.45,98.30 L448.55,97.92 L448.65,97.37 L448.75,96.92 L448.84,96.47 L448.94,96.00 L449.04,95.51 L449.13,95.00 L449.23,94.46 L449.33,93.88 L449.42,93.26 L449.52,92.58 L449.62,91.84 L449.71,90.98 L449.81,89.96 L449.91,88.80 L450.01,87.54 L450.10,86.20 L450.20,84.80 L450.30,83.38 L450.39,81.96 L450.49,80.57 L450.59,79.24 L450.68,77.99 L450.78,76.86 L450.88,75.79 L450.97,74.72 L451.07,73.68 L451.17,72.71 L451.26,71.83 L451.36,71.07 L451.46,70.47 L451.56,69.98 L451.65,69.52 L451.75,69.13 L451.85,68.81 L451.94,68.57 L452.04,68.45 L452.14,68.65 L452.23,68.94 L452.33,69.31 L452.43,69.75 L452.52,70.23 L452.62,70.75 L452.72,71.29 L452.82,71.87 L452.91,72.54 L453.01,73.29 L453.11,74.14 L453.20,75.08 L453.30,76.12 L453.40,77.27 L453.49,78.89 L453.59,81.11 L453.69,83.66 L453.78,86.21 L453.88,88.47 L453.98,90.14 L454.07,91.35 L454.17,92.44 L454.27,93.42 L454.37,94.32 L454.46,95.14 L454.56,95.91 L454.66,96.64 L454.75,97.35 L454.85,98.05 L454.95,98.75 L455.04,99.46 L455.14,100.16 L455.24,100.86 L455.33,101.55 L455.43,102.23 L455.53,102.91 L455.63,103.36 L455.72,103.53 L455.82,103.69 L455.92,103.85 L456.01,103.99 L456.11,104.13 L456.21,104.25 L456.30,104.36 L456.40,104.91 L456.50,105.98 L456.59,107.04 L456.69,108.09 L456.79,109.12 L456.88,110.13 L456.98,111.14 L457.08,112.13 L457.18,112.88 L457.27,113.36 L457.37,113.83 L457.47,114.29 L457.56,114.74 L457.66,115.18 L457.76,115.61 L457.85,116.04 L457.95,116.47 L458.05,116.90 L458.14,117.33 L458.24,117.77 L458.34,118.21 L458.44,118.65 L458.53,119.11 L458.63,119.56 L458.73,120.03 L458.82,120.50 L458.92,120.98 L459.02,121.47 L459.11,121.91 L459.21,121.91 L459.31,121.91 L459.40,121.92 L459.50,121.92 L459.60,121.91 L459.70,121.91 L459.79,121.89 L459.89,121.96 L459.99,122.91 L460.08,123.86 L460.18,124.79 L460.28,125.70 L460.37,126.60 L460.47,127.48 L460.57,128.34 L460.66,129.13 L460.76,129.46 L460.86,129.77 L460.95,130.07 L461.05,130.37 L461.15,130.67 L461.25,130.97 L461.34,131.28 L461.44,131.60 L461.54,131.93 L461.63,132.26 L461.73,132.59 L461.83,132.94 L461.92,133.29 L462.02,133.66 L462.12,134.04 L462.21,134.43 L462.31,134.84 L462.41,135.25 L462.51,135.68 L462.60,136.11 L462.70,136.20 L462.80,136.16 L462.89,136.13 L462.99,136.10 L463.09,136.07 L463.18,136.04 L463.28,136.01 L463.38,135.98 L463.47,136.67 L463.57,137.61 L463.67,138.55 L463.76,139.48 L463.86,140.41 L463.96,141.32 L464.06,142.22 L464.15,143.12 L464.25,143.65 L464.35,144.03 L464.44,144.41 L464.54,144.79 L464.64,145.16 L464.73,145.53 L464.83,145.90 L464.93,146.27 L465.02,146.65 L465.12,147.03 L465.22,147.41 L465.32,147.81 L465.41,148.21 L465.51,148.63 L465.61,149.05 L465.70,149.49 L465.80,149.95 L465.90,150.41 L465.99,150.89 L466.09,151.38 L466.19,151.70 L466.28,151.71 L466.38,151.74 L466.48,151.77 L466.58,151.80 L466.67,151.84 L466.77,151.88 L466.87,151.93 L466.96,152.33 L467.06,153.35 L467.16,154.37 L467.25,155.39 L467.35,156.40 L467.45,157.41 L467.54,158.41 L467.64,159.41 L467.74,160.22 L467.83,160.70 L467.93,161.17 L468.03,161.63 L468.13,162.08 L468.22,162.53 L468.32,163.00 L468.42,163.49 L468.51,164.00 L468.61,164.54 L468.71,165.12 L468.80,165.74 L468.90,166.42 L469.00,167.16 L469.09,168.02 L469.19,169.04 L469.29,170.20 L469.39,171.46 L469.48,172.80 L469.58,174.20 L469.68,175.62 L469.77,177.04 L469.87,178.43 L469.97,179.76 L470.06,181.01 L470.16,182.14 L470.26,183.21 L470.35,184.28 L470.45,185.32 L470.55,186.29 L470.64,187.17 L470.74,187.93 L470.84,188.53 L470.94,189.02 L471.03,189.48 L471.13,189.87 L471.23,190.19 L471.32,190.43 L471.42,190.55 L471.52,190.35 L471.61,190.06 L471.71,189.69 L471.81,189.25 L471.90,188.77 L472.00,188.25 L472.10,187.71 L472.20,187.13 L472.29,186.46 L472.39,185.71 L472.49,184.86 L472.58,183.92 L472.68,182.88 L472.78,181.73 L472.87,180.11 L472.97,177.89 L473.07,175.34 L473.16,172.79 L473.26,170.53 L473.36,168.86 L473.45,167.65 L473.55,166.56 L473.65,165.58 L473.75,164.68 L473.84,163.86 L473.94,163.09 L474.04,162.36 L474.13,164.80 L474.23,163.60 L474.33,162.40 L474.42,161.20 L474.52,160.00 L474.62,158.81 L474.71,157.63 L474.81,156.77 L474.91,156.09 L475.01,155.42 L475.10,154.75 L475.20,154.10 L475.30,153.45 L475.39,152.81 L475.49,152.18 L475.59,151.56 L475.68,150.95 L475.78,150.36 L475.88,149.78 L475.97,149.22 L476.07,148.67 L476.17,148.13 L476.26,147.61 L476.36,147.10 L476.46,146.60 L476.56,146.12 L476.65,145.64 L476.75,145.31 L476.85,145.34 L476.94,145.39 L477.04,145.44 L477.14,145.50 L477.23,145.56 L477.33,145.63 L477.43,145.69 L477.52,145.48 L477.62,144.55 L477.72,143.62 L477.82,142.68 L477.91,141.74 L478.01,140.78 L478.11,139.82 L478.20,138.86 L478.30,138.02 L478.40,137.53 L478.49,137.04 L478.59,136.55 L478.69,136.05 L478.78,135.56 L478.88,135.06 L478.98,134.57 L479.08,134.08 L479.17,133.60 L479.27,133.13 L479.37,132.67 L479.46,132.23 L479.56,131.79 L479.66,131.37 L479.75,130.96 L479.85,130.57 L479.95,130.21 L480.04,129.87 L480.14,129.54 L480.24,129.23 L480.33,129.37 L480.43,129.57 L480.53,129.77 L480.63,129.96 L480.72,130.14 L480.82,130.32 L480.92,130.49 L481.01,130.65 L481.11,129.91 L481.21,129.07 L481.30,128.22 L481.40,127.36 L481.50,126.49 L481.59,125.60 L481.69,124.70 L481.79,123.79 L481.89,123.32 L481.98,122.89 L482.08,122.44 L482.18,121.99 L482.27,121.53 L482.37,121.06 L482.47,120.60 L482.56,120.13 L482.66,119.66 L482.76,119.20 L482.85,118.74 L482.95,118.29 L483.05,117.84 L483.14,117.41 L483.24,116.98 L483.34,116.56 L483.44,116.15 L483.53,115.75 L483.63,115.35 L483.73,114.97 L483.82,114.86 L483.92,114.98 L484.02,115.10 L484.11,115.22 L484.21,115.35 L484.31,115.47 L484.40,115.59 L484.50,115.70 L484.60,115.27 L484.70,114.38 L484.79,113.48 L484.89,112.57 L484.99,111.65 L485.08,110.72 L485.18,109.77 L485.28,108.81 L485.37,108.11 L485.47,107.62 L485.57,107.12 L485.66,106.61 L485.76,106.09 L485.86,105.57 L485.96,105.04 L486.05,104.51 L486.15,103.97 L486.25,103.44 L486.34,102.90 L486.44,102.37 L486.54,101.84 L486.63,101.32 L486.73,100.80 L486.83,100.29 L486.92,99.78 L487.02,99.28 L487.12,98.78 L487.21,98.30 L487.31,97.92 L487.41,97.37 L487.51,96.92 L487.60,96.47 L487.70,96.00 L487.80,95.51 L487.89,95.00 L487.99,94.46 L488.09,93.88 L488.18,93.26 L488.28,92.58 L488.38,91.84 L488.47,90.98 L488.57,89.96 L488.67,88.80 L488.77,87.54 L488.86,86.20 L488.96,84.80 L489.06,83.38 L489.15,81.96 L489.25,80.57 L489.35,79.24 L489.44,77.99 L489.54,76.86 L489.64,75.79 L489.73,74.72 L489.83,73.68 L489.93,72.71 L490.02,71.83 L490.12,71.07 L490.22,70.47 L490.32,69.98 L490.41,69.52 L490.51,69.13 L490.61,68.81 L490.70,68.57 L490.80,68.45" stroke="#0000ff" stroke-width="1.60"/>
</g>
<rect x="297.00" y="53.50" width="193.80" height="152.00" fill="none" stroke="#222" stroke-width="1.00"/>
<path d="M335.76,205.50 v-2.00 M335.76,53.50 v2.00" stroke="#222" stroke-width="0.8"/>
<path d="M374.52,205.50 v-2.00 M374.52,53.50 v2.00" stroke="#222" stroke-width="0.8"/>
<path d="M413.28,205.50 v-2.00 M413.28,53.50 v2.00" stroke="#222" stroke-width="0.8"/>
<path d="M452.04,205.50 v-2.00 M452.04,53.50 v2.00" stroke="#222" stroke-width="0.8"/>
<path d="M297.00,68.70 h2.00 M490.80,68.70 h-2.00" stroke="#222" stroke-width="0.8"/>
<path d="M297.00,83.90 h2.00 M490.80,83.90 h-2.00" stroke="#222" stroke-width="0.8"/>
<path d="M297.00,99.10 h2.00 M490.80,99.10 h-2.00" stroke="#222" stroke-width="0.8"/>
<path d="M297.00,114.30 h2.00 M490.80,114.30 h-2.00" stroke="#222" stroke-width="0.8"/>
<path d="M297.00,129.50 h2.00 M490.80,129.50 h-2.00" stroke="#222" stroke-width="0.8"/>
<path d="M297.00,144.70 h2.00 M490.80,144.70 h-2.00" stroke="#222" stroke-width="0.8"/>
<path d="M297.00,159.90 h2.00 M490.80,159.90 h-2.00" stroke="#222" stroke-width="0.8"/>
<path d="M297.00,175.10 h2.00 M490.80,175.10 h-2.00" stroke="#222" stroke-width="0.8"/>
<path d="M297.00,190.30 h2.00 M490.80,190.30 h-2.00" stroke="#222" stroke-width="0.8"/>
<text x="288.90" y="57.40" font-size="11.10" text-anchor="end" font-family="Liberation Serif, serif" fill="#000" stroke="#000" stroke-width="0.22" >2.5</text>
<text x="286.60" y="72.60" font-size="11.10" text-anchor="end" font-family="Liberation Serif, serif" fill="#000" stroke="#000" stroke-width="0.22" >2</text>
<text x="288.90" y="87.80" font-size="11.10" text-anchor="end" font-family="Liberation Serif, serif" fill="#000" stroke="#000" stroke-width="0.22" >1.5</text>
<text x="286.60" y="103.00" font-size="11.10" text-anchor="end" font-family="Liberation Serif, serif" fill="#000" stroke="#000" stroke-width="0.22" >1</text>
<text x="288.90" y="118.20" font-size="11.10" text-anchor="end" font-family="Liberation Serif, serif" fill="#000" stroke="#000" stroke-width="0.22" >0.5</text>
<text x="286.60" y="133.40" font-size="11.10" text-anchor="end" font-family="Liberation Serif, serif" fill="#000" stroke="#000" stroke-width="0.22" >0</text>
<text x="288.90" y="148.60" font-size="11.10" text-anchor="end" font-family="Liberation Serif, serif" fill="#000" stroke="#000" stroke-width="0.22" >-0.5</text>
<text x="286.60" y="163.80" font-size="11.10" text-anchor="end" font-family="Liberation Serif, serif" fill="#000" stroke="#000" stroke-width="0.22" >-1</text>
<text x="288.90" y="179.00" font-size="11.10" text-anchor="end" font-family="Liberation Serif, serif" fill="#000" stroke="#000" stroke-width="0.22" >-1.5</text>
<text x="286.60" y="194.20" font-size="11.10" text-anchor="end" font-family="Liberation Serif, serif" fill="#000" stroke="#000" stroke-width="0.22" >-2</text>
<text x="288.90" y="209.40" font-size="11.10" text-anchor="end" font-family="Liberation Serif, serif" fill="#000" stroke="#000" stroke-width="0.22" >-2.5</text>
<text x="297.00" y="217.60" font-size="11.10" text-anchor="middle" font-family="Liberation Serif, serif" fill="#000" stroke="#000" stroke-width="0.22" >0</text>
<text x="335.76" y="217.60" font-size="11.10" text-anchor="middle" font-family="Liberation Serif, serif" fill="#000" stroke="#000" stroke-width="0.22" >0.02</text>
<text x="374.52" y="217.60" font-size="11.10" text-anchor="middle" font-family="Liberation Serif, serif" fill="#000" stroke="#000" stroke-width="0.22" >0.04</text>
<text x="413.28" y="217.60" font-size="11.10" text-anchor="middle" font-family="Liberation Serif, serif" fill="#000" stroke="#000" stroke-width="0.22" >0.06</text>
<text x="452.04" y="217.60" font-size="11.10" text-anchor="middle" font-family="Liberation Serif, serif" fill="#000" stroke="#000" stroke-width="0.22" >0.08</text>
<text x="490.80" y="217.60" font-size="11.10" text-anchor="middle" font-family="Liberation Serif, serif" fill="#000" stroke="#000" stroke-width="0.22" >0.1</text>
<text x="394.30" y="233.00" font-size="11.10" text-anchor="middle" font-family="Liberation Serif, serif" fill="#000" stroke="#000" stroke-width="0.22" >time [s]</text>
<text x="394.00" y="252.60" font-size="11.00" text-anchor="middle" font-family="Liberation Serif, serif" fill="#000" stroke="#000" stroke-width="0.05" font-weight="bold">(b)</text>
<text x="266.00" y="133.00" font-size="11.10" text-anchor="middle" font-family="Liberation Serif, serif" fill="#000" stroke="#000" stroke-width="0.22" font-style="italic">M</text>
<rect x="338.00" y="11.75" width="112.50" height="31.75" fill="none" stroke="#222" stroke-width="1.00"/>
<path d="M341.5,21.8 H364.5" stroke="#0000ff" stroke-width="1.60"/>
<rect x="341.5" y="33" width="23" height="5.5" fill="#e6e6e6"/>
<text x="368.00" y="24.60" font-size="11.30" text-anchor="start" font-family="Liberation Serif, serif" fill="#000" stroke="#000" stroke-width="0.22" >modulation index</text>
<text x="368.00" y="39.20" font-size="11.30" text-anchor="start" font-family="Liberation Serif, serif" fill="#000" stroke="#000" stroke-width="0.22" >saturation area</text>
<rect x="82.61" y="312.27" width="3.00" height="176.83" fill="#0000ff" stroke="#111" stroke-width="0.7"/>
<rect x="101.63" y="400.68" width="3.00" height="88.42" fill="#0000ff" stroke="#111" stroke-width="0.7"/>
<rect x="85.61" y="333.49" width="3.00" height="155.61" fill="#ff0000" stroke="#111" stroke-width="0.7"/>
<rect x="95.12" y="485.21" width="3.00" height="3.89" fill="#ff0000" stroke="#111" stroke-width="0.7"/>
<rect x="104.63" y="401.21" width="3.00" height="87.89" fill="#ff0000" stroke="#111" stroke-width="0.7"/>
<rect x="114.14" y="486.45" width="3.00" height="2.65" fill="#ff0000" stroke="#111" stroke-width="0.7"/>
<rect x="123.65" y="488.57" width="3.00" height="0.53" fill="#ff0000" stroke="#111" stroke-width="0.7"/>
<rect x="133.16" y="488.57" width="3.00" height="0.53" fill="#ff0000" stroke="#111" stroke-width="0.7"/>
<rect x="142.67" y="487.33" width="3.00" height="1.77" fill="#ff0000" stroke="#111" stroke-width="0.7"/>
<rect x="152.18" y="488.57" width="3.00" height="0.53" fill="#ff0000" stroke="#111" stroke-width="0.7"/>
<rect x="161.69" y="486.98" width="3.00" height="2.12" fill="#ff0000" stroke="#111" stroke-width="0.7"/>
<rect x="171.20" y="488.22" width="3.00" height="0.88" fill="#ff0000" stroke="#111" stroke-width="0.7"/>
<rect x="180.71" y="478.14" width="3.00" height="10.96" fill="#ff0000" stroke="#111" stroke-width="0.7"/>
<rect x="190.22" y="488.22" width="3.00" height="0.88" fill="#ff0000" stroke="#111" stroke-width="0.7"/>
<rect x="199.73" y="484.15" width="3.00" height="4.95" fill="#ff0000" stroke="#111" stroke-width="0.7"/>
<rect x="209.24" y="488.39" width="3.00" height="0.71" fill="#ff0000" stroke="#111" stroke-width="0.7"/>
<rect x="218.75" y="486.45" width="3.00" height="2.65" fill="#ff0000" stroke="#111" stroke-width="0.7"/>
<rect x="228.26" y="488.57" width="3.00" height="0.53" fill="#ff0000" stroke="#111" stroke-width="0.7"/>
<rect x="237.77" y="483.80" width="3.00" height="5.31" fill="#ff0000" stroke="#111" stroke-width="0.7"/>
<rect x="247.28" y="488.57" width="3.00" height="0.53" fill="#ff0000" stroke="#111" stroke-width="0.7"/>
<rect x="256.79" y="485.56" width="3.00" height="3.54" fill="#ff0000" stroke="#111" stroke-width="0.7"/>
<rect x="266.30" y="488.39" width="3.00" height="0.71" fill="#ff0000" stroke="#111" stroke-width="0.7"/>
<rect x="275.81" y="485.21" width="3.00" height="3.89" fill="#ff0000" stroke="#111" stroke-width="0.7"/>
<rect x="285.32" y="488.39" width="3.00" height="0.71" fill="#ff0000" stroke="#111" stroke-width="0.7"/>
<rect x="294.83" y="487.69" width="3.00" height="1.41" fill="#ff0000" stroke="#111" stroke-width="0.7"/>
<rect x="304.34" y="488.57" width="3.00" height="0.53" fill="#ff0000" stroke="#111" stroke-width="0.7"/>
<rect x="313.85" y="488.04" width="3.00" height="1.06" fill="#ff0000" stroke="#111" stroke-width="0.7"/>
<rect x="332.87" y="488.22" width="3.00" height="0.88" fill="#ff0000" stroke="#111" stroke-width="0.7"/>
<rect x="351.89" y="488.39" width="3.00" height="0.71" fill="#ff0000" stroke="#111" stroke-width="0.7"/>
<rect x="370.91" y="488.39" width="3.00" height="0.71" fill="#ff0000" stroke="#111" stroke-width="0.7"/>
<rect x="389.93" y="488.22" width="3.00" height="0.88" fill="#ff0000" stroke="#111" stroke-width="0.7"/>
<rect x="408.95" y="488.39" width="3.00" height="0.71" fill="#ff0000" stroke="#111" stroke-width="0.7"/>
<rect x="427.97" y="488.39" width="3.00" height="0.71" fill="#ff0000" stroke="#111" stroke-width="0.7"/>
<rect x="446.99" y="488.39" width="3.00" height="0.71" fill="#ff0000" stroke="#111" stroke-width="0.7"/>
<rect x="323.36" y="488.57" width="3.00" height="0.53" fill="#ff0000" stroke="#111" stroke-width="0.7"/>
<rect x="342.38" y="488.57" width="3.00" height="0.53" fill="#ff0000" stroke="#111" stroke-width="0.7"/>
<rect x="361.40" y="488.57" width="3.00" height="0.53" fill="#ff0000" stroke="#111" stroke-width="0.7"/>
<rect x="380.42" y="488.57" width="3.00" height="0.53" fill="#ff0000" stroke="#111" stroke-width="0.7"/>
<rect x="399.44" y="488.57" width="3.00" height="0.53" fill="#ff0000" stroke="#111" stroke-width="0.7"/>
<rect x="418.46" y="488.57" width="3.00" height="0.53" fill="#ff0000" stroke="#111" stroke-width="0.7"/>
<rect x="437.48" y="488.57" width="3.00" height="0.53" fill="#ff0000" stroke="#111" stroke-width="0.7"/>
<rect x="76.10" y="276.90" width="380.40" height="212.20" fill="none" stroke="#555" stroke-width="1.30"/>
<path d="M123.65,489.10 v-3.20 M123.65,276.90 v3.20" stroke="#222" stroke-width="0.8"/>
<path d="M171.20,489.10 v-3.20 M171.20,276.90 v3.20" stroke="#222" stroke-width="0.8"/>
<path d="M218.75,489.10 v-3.20 M218.75,276.90 v3.20" stroke="#222" stroke-width="0.8"/>
<path d="M266.30,489.10 v-3.20 M266.30,276.90 v3.20" stroke="#222" stroke-width="0.8"/>
<path d="M313.85,489.10 v-3.20 M313.85,276.90 v3.20" stroke="#222" stroke-width="0.8"/>
<path d="M361.40,489.10 v-3.20 M361.40,276.90 v3.20" stroke="#222" stroke-width="0.8"/>
<path d="M408.95,489.10 v-3.20 M408.95,276.90 v3.20" stroke="#222" stroke-width="0.8"/>
<path d="M76.10,453.73 h3.20 M456.50,453.73 h-3.20" stroke="#222" stroke-width="0.8"/>
<path d="M76.10,418.37 h3.20 M456.50,418.37 h-3.20" stroke="#222" stroke-width="0.8"/>
<path d="M76.10,383.00 h3.20 M456.50,383.00 h-3.20" stroke="#222" stroke-width="0.8"/>
<path d="M76.10,347.63 h3.20 M456.50,347.63 h-3.20" stroke="#222" stroke-width="0.8"/>
<path d="M76.10,312.27 h3.20 M456.50,312.27 h-3.20" stroke="#222" stroke-width="0.8"/>
<text x="69.80" y="492.10" font-size="9.20" text-anchor="end" font-family="Liberation Serif, serif" fill="#000" stroke="#000" stroke-width="0.22" >0</text>
<text x="69.80" y="456.73" font-size="9.20" text-anchor="end" font-family="Liberation Serif, serif" fill="#000" stroke="#000" stroke-width="0.22" >2</text>
<text x="69.80" y="421.37" font-size="9.20" text-anchor="end" font-family="Liberation Serif, serif" fill="#000" stroke="#000" stroke-width="0.22" >4</text>
<text x="69.80" y="386.00" font-size="9.20" text-anchor="end" font-family="Liberation Serif, serif" fill="#000" stroke="#000" stroke-width="0.22" >6</text>
<text x="69.80" y="350.63" font-size="9.20" text-anchor="end" font-family="Liberation Serif, serif" fill="#000" stroke="#000" stroke-width="0.22" >8</text>
<text x="67.40" y="315.27" font-size="9.20" text-anchor="end" font-family="Liberation Serif, serif" fill="#000" stroke="#000" stroke-width="0.22" >10</text>
<text x="67.40" y="279.90" font-size="9.20" text-anchor="end" font-family="Liberation Serif, serif" fill="#000" stroke="#000" stroke-width="0.22" >12</text>
<text x="76.10" y="504.80" font-size="9.20" text-anchor="middle" font-family="Liberation Serif, serif" fill="#000" stroke="#000" stroke-width="0.22" >0</text>
<text x="123.65" y="504.80" font-size="9.20" text-anchor="middle" font-family="Liberation Serif, serif" fill="#000" stroke="#000" stroke-width="0.22" >5</text>
<text x="171.20" y="504.80" font-size="9.20" text-anchor="middle" font-family="Liberation Serif, serif" fill="#000" stroke="#000" stroke-width="0.22" >10</text>
<text x="218.75" y="504.80" font-size="9.20" text-anchor="middle" font-family="Liberation Serif, serif" fill="#000" stroke="#000" stroke-width="0.22" >15</text>
<text x="266.30" y="504.80" font-size="9.20" text-anchor="middle" font-family="Liberation Serif, serif" fill="#000" stroke="#000" stroke-width="0.22" >20</text>
<text x="313.85" y="504.80" font-size="9.20" text-anchor="middle" font-family="Liberation Serif, serif" fill="#000" stroke="#000" stroke-width="0.22" >25</text>
<text x="361.40" y="504.80" font-size="9.20" text-anchor="middle" font-family="Liberation Serif, serif" fill="#000" stroke="#000" stroke-width="0.22" >30</text>
<text x="408.95" y="504.80" font-size="9.20" text-anchor="middle" font-family="Liberation Serif, serif" fill="#000" stroke="#000" stroke-width="0.22" >35</text>
<text x="456.50" y="504.80" font-size="9.20" text-anchor="middle" font-family="Liberation Serif, serif" fill="#000" stroke="#000" stroke-width="0.22" >40</text>
<text x="266.30" y="525.40" font-size="9.60" text-anchor="middle" font-family="Liberation Serif, serif" fill="#000" stroke="#000" stroke-width="0.22" >harmonic</text>
<text x="266.30" y="543.60" font-size="10.30" text-anchor="middle" font-family="Liberation Serif, serif" fill="#000" stroke="#000" stroke-width="0.05" font-weight="bold">(c)</text>
<text transform="translate(51,382.7) rotate(-90)" font-size="9.70" text-anchor="middle" font-family="Liberation Serif, serif" fill="#000" stroke="#000" stroke-width="0.22">current [A]</text>
<rect x="304.50" y="286.00" width="142.10" height="35.00" fill="none" stroke="#222" stroke-width="0.90"/>
<rect x="309.6" y="293" width="43" height="5.7" fill="#0000ff" stroke="#111" stroke-width="0.6"/>
<rect x="309.6" y="310.5" width="43" height="5.7" fill="#ff0000" stroke="#111" stroke-width="0.6"/>
<text x="356.70" y="298.70" font-size="9.60" text-anchor="start" font-family="Liberation Serif, serif" fill="#000" stroke="#000" stroke-width="0.22" >load current reference</text>
<text x="356.70" y="316.20" font-size="9.60" text-anchor="start" font-family="Liberation Serif, serif" fill="#000" stroke="#000" stroke-width="0.22" >load current</text>
</svg>
</body></html>
